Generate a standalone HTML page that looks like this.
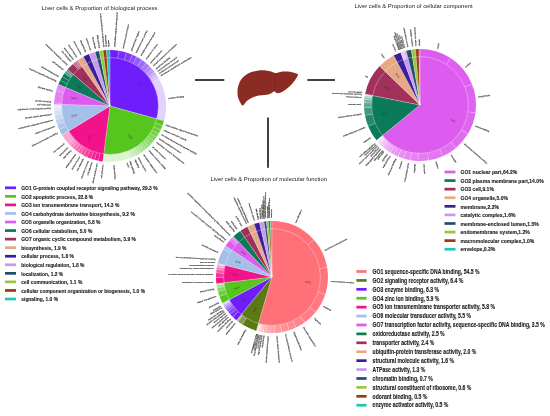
<!DOCTYPE html>
<html><head><meta charset="utf-8"><title>Liver cells GO proportions</title>
<style>
html,body{margin:0;padding:0;background:#fff;}
svg{display:block;font-family:"Liberation Sans",Arial,sans-serif;}
.tt text{font-size:5.9px;fill:#222;}
.lg text{font-weight:bold;fill:#1a1a1a;stroke:#1a1a1a;stroke-width:.12px;}
.rl text{font-size:2.0px;fill:#333;font-weight:bold;stroke:#444;stroke-width:.1px;}
.il{font-size:2.6px;fill:#333;}
</style></head><body>
<svg width="550" height="416" viewBox="0 0 550 416">
<rect width="550" height="416" fill="#fff"/>
<g class="tt">
<text x="99.6" y="9.6" text-anchor="middle">Liver cells &amp; Proportion of biological process</text>
<text x="413.5" y="7.5" text-anchor="middle">Liver cells &amp; Proportion of cellular component</text>
<text x="268.7" y="181.2" text-anchor="middle">Liver cells &amp; Proportion of molecular function</text>
</g>
<g><path d="M110.00,106.00L110.00,57.00A49.0,49.0 0 0 1 157.25,118.99Z" fill="#6f1dfb"/><text class="il" x="139.43" y="83.57" transform="rotate(-37.3 139.43 83.57)" text-anchor="middle" dy=".9">GO1</text><path d="M110.00,106.00L157.25,118.99A49.0,49.0 0 0 1 103.71,154.59Z" fill="#55c61e"/><text class="il" x="130.49" y="136.81" transform="rotate(56.4 130.49 136.81)" text-anchor="middle" dy=".9">GO2</text><path d="M110.00,106.00L103.71,154.59A49.0,49.0 0 0 1 68.09,131.38Z" fill="#f2128a"/><text class="il" x="89.80" y="137.00" transform="rotate(-56.9 89.80 137.00)" text-anchor="middle" dy=".9">GO3</text><path d="M110.00,106.00L68.09,131.38A49.0,49.0 0 0 1 61.03,104.39Z" fill="#a4bfe9"/><text class="il" x="74.20" y="115.36" transform="rotate(-14.7 74.20 115.36)" text-anchor="middle" dy=".9">GO4</text><path d="M110.00,106.00L61.03,104.39A49.0,49.0 0 0 1 64.81,87.05Z" fill="#dd5cef"/><text class="il" x="73.85" y="98.11" transform="rotate(12.3 73.85 98.11)" text-anchor="middle" dy=".9">GO5</text><path d="M110.00,106.00L64.81,87.05A49.0,49.0 0 0 1 72.87,74.03Z" fill="#0b7a59"/><text class="il" x="78.53" y="86.54" transform="rotate(31.7 78.53 86.54)" text-anchor="middle" dy=".9">GO6</text><path d="M110.00,106.00L72.87,74.03A49.0,49.0 0 0 1 81.72,65.98Z" fill="#a1305b"/><text class="il" x="85.12" y="78.62" transform="rotate(47.7 85.12 78.62)" text-anchor="middle" dy=".9">GO7</text><path d="M110.00,106.00L81.72,65.98A49.0,49.0 0 0 1 86.69,62.90Z" fill="#e7a983"/><path d="M110.00,106.00L86.69,62.90A49.0,49.0 0 0 1 91.69,60.55Z" fill="#3a1f9c"/><path d="M110.00,106.00L91.69,60.55A49.0,49.0 0 0 1 96.93,58.77Z" fill="#cb98ef"/><path d="M110.00,106.00L96.93,58.77A49.0,49.0 0 0 1 100.53,57.92Z" fill="#1f4e6e"/><path d="M110.00,106.00L100.53,57.92A49.0,49.0 0 0 1 103.86,57.39Z" fill="#9bc63d"/><path d="M110.00,106.00L103.86,57.39A49.0,49.0 0 0 1 106.93,57.10Z" fill="#9a3a0f"/><path d="M110.00,106.00L106.93,57.10A49.0,49.0 0 0 1 110.00,57.00Z" fill="#1fc7ae"/></g>
<g><path d="M110.00,50.00A56.0,56.0 0 0 1 118.76,50.69L117.57,58.20A48.4,48.4 0 0 0 110.00,57.60Z" fill="#6f1dfb"/><path d="M118.76,50.69A56.0,56.0 0 0 1 126.37,52.45L124.15,59.71A48.4,48.4 0 0 0 117.57,58.20Z" fill="#792cfb"/><path d="M126.37,52.45A56.0,56.0 0 0 1 132.33,54.64L129.30,61.61A48.4,48.4 0 0 0 124.15,59.71Z" fill="#823bfc"/><path d="M132.33,54.64A56.0,56.0 0 0 1 136.72,56.79L133.09,63.47A48.4,48.4 0 0 0 129.30,61.61Z" fill="#8c4afc"/><path d="M136.72,56.79A56.0,56.0 0 0 1 141.72,59.85L137.41,66.11A48.4,48.4 0 0 0 133.09,63.47Z" fill="#9559fc"/><path d="M141.72,59.85A56.0,56.0 0 0 1 146.00,63.10L141.11,68.92A48.4,48.4 0 0 0 137.41,66.11Z" fill="#9f68fc"/><path d="M146.00,63.10A56.0,56.0 0 0 1 149.60,66.40L144.22,71.78A48.4,48.4 0 0 0 141.11,68.92Z" fill="#a977fd"/><path d="M149.60,66.40A56.0,56.0 0 0 1 152.26,69.26L146.53,74.25A48.4,48.4 0 0 0 144.22,71.78Z" fill="#b286fd"/><path d="M152.26,69.26A56.0,56.0 0 0 1 154.43,71.91L148.40,76.54A48.4,48.4 0 0 0 146.53,74.25Z" fill="#bc96fd"/><path d="M154.43,71.91A56.0,56.0 0 0 1 155.87,73.88L149.65,78.24A48.4,48.4 0 0 0 148.40,76.54Z" fill="#c5a5fd"/><path d="M155.87,73.88A56.0,56.0 0 0 1 157.33,76.08L150.91,80.14A48.4,48.4 0 0 0 149.65,78.24Z" fill="#cfb4fe"/><path d="M157.33,76.08A56.0,56.0 0 0 1 158.74,78.42L152.13,82.17A48.4,48.4 0 0 0 150.91,80.14Z" fill="#d9c3fe"/><path d="M158.74,78.42A56.0,56.0 0 0 1 163.99,120.87L156.66,118.85A48.4,48.4 0 0 0 152.13,82.17Z" fill="#e2d2fe"/><path d="M164.00,120.85A56.0,56.0 0 0 1 162.47,125.58L155.35,122.92A48.4,48.4 0 0 0 156.67,118.83Z" fill="#55c61e"/><path d="M162.47,125.58A56.0,56.0 0 0 1 160.63,129.93L153.76,126.68A48.4,48.4 0 0 0 155.35,122.92Z" fill="#63cb30"/><path d="M160.63,129.93A56.0,56.0 0 0 1 158.55,133.91L151.96,130.12A48.4,48.4 0 0 0 153.76,126.68Z" fill="#6ece3e"/><path d="M158.55,133.91A56.0,56.0 0 0 1 156.29,137.52L150.01,133.24A48.4,48.4 0 0 0 151.96,130.12Z" fill="#78d24c"/><path d="M156.29,137.52A56.0,56.0 0 0 1 153.89,140.78L147.93,136.06A48.4,48.4 0 0 0 150.01,133.24Z" fill="#81d559"/><path d="M153.89,140.78A56.0,56.0 0 0 1 151.40,143.72L145.78,138.60A48.4,48.4 0 0 0 147.93,136.06Z" fill="#8ad865"/><path d="M151.40,143.72A56.0,56.0 0 0 1 148.85,146.34L143.57,140.86A48.4,48.4 0 0 0 145.78,138.60Z" fill="#93db71"/><path d="M148.85,146.34A56.0,56.0 0 0 1 146.27,148.67L141.35,142.88A48.4,48.4 0 0 0 143.57,140.86Z" fill="#9cde7c"/><path d="M146.27,148.67A56.0,56.0 0 0 1 143.70,150.73L139.12,144.66A48.4,48.4 0 0 0 141.35,142.88Z" fill="#a5e187"/><path d="M143.70,150.73A56.0,56.0 0 0 1 141.14,152.54L136.91,146.23A48.4,48.4 0 0 0 139.12,144.66Z" fill="#ade493"/><path d="M141.14,152.54A56.0,56.0 0 0 1 138.62,154.13L134.74,147.60A48.4,48.4 0 0 0 136.91,146.23Z" fill="#b5e69e"/><path d="M138.62,154.13A56.0,56.0 0 0 1 136.16,155.52L132.61,148.80A48.4,48.4 0 0 0 134.74,147.60Z" fill="#bde9a8"/><path d="M136.16,155.52A56.0,56.0 0 0 1 133.75,156.71L130.53,149.83A48.4,48.4 0 0 0 132.61,148.80Z" fill="#c6ecb3"/><path d="M133.75,156.71A56.0,56.0 0 0 1 131.41,157.74L128.51,150.72A48.4,48.4 0 0 0 130.53,149.83Z" fill="#cdeebd"/><path d="M131.41,157.74A56.0,56.0 0 0 1 129.15,158.62L126.55,151.48A48.4,48.4 0 0 0 128.51,150.72Z" fill="#d5f1c8"/><path d="M129.15,158.62A56.0,56.0 0 0 1 102.81,161.54L103.79,154.00A48.4,48.4 0 0 0 126.55,151.48Z" fill="#ddf4d2"/><path d="M102.79,161.53A56.0,56.0 0 0 1 98.36,160.78L99.94,153.34A48.4,48.4 0 0 0 103.77,154.00Z" fill="#f2128a"/><path d="M98.36,160.78A56.0,56.0 0 0 1 94.56,159.83L96.66,152.53A48.4,48.4 0 0 0 99.94,153.34Z" fill="#f21a8e"/><path d="M94.56,159.83A56.0,56.0 0 0 1 90.85,158.62L93.45,151.48A48.4,48.4 0 0 0 96.66,152.53Z" fill="#f32593"/><path d="M90.85,158.62A56.0,56.0 0 0 1 87.22,157.16L90.31,150.22A48.4,48.4 0 0 0 93.45,151.48Z" fill="#f43199"/><path d="M87.22,157.16A56.0,56.0 0 0 1 83.71,155.45L87.28,148.73A48.4,48.4 0 0 0 90.31,150.22Z" fill="#f43ea0"/><path d="M83.71,155.45A56.0,56.0 0 0 1 80.74,153.75L84.71,147.27A48.4,48.4 0 0 0 87.28,148.73Z" fill="#f54ba6"/><path d="M80.74,153.75A56.0,56.0 0 0 1 77.88,151.87L82.24,145.65A48.4,48.4 0 0 0 84.71,147.27Z" fill="#f659ad"/><path d="M77.88,151.87A56.0,56.0 0 0 1 75.14,149.83L79.87,143.88A48.4,48.4 0 0 0 82.24,145.65Z" fill="#f767b4"/><path d="M75.14,149.83A56.0,56.0 0 0 1 72.53,147.62L77.61,141.97A48.4,48.4 0 0 0 79.87,143.88Z" fill="#f876bc"/><path d="M72.53,147.62A56.0,56.0 0 0 1 70.40,145.60L75.78,140.22A48.4,48.4 0 0 0 77.61,141.97Z" fill="#f885c3"/><path d="M70.40,145.60A56.0,56.0 0 0 1 68.38,143.47L74.03,138.39A48.4,48.4 0 0 0 75.78,140.22Z" fill="#f995cb"/><path d="M68.38,143.47A56.0,56.0 0 0 1 62.10,135.01L68.60,131.07A48.4,48.4 0 0 0 74.03,138.39Z" fill="#faa5d3"/><path d="M62.10,135.01A56.0,56.0 0 0 1 59.19,129.54L66.08,126.34A48.4,48.4 0 0 0 68.60,131.07Z" fill="#a4bfe9"/><path d="M59.19,129.54A56.0,56.0 0 0 1 57.10,124.37L64.28,121.88A48.4,48.4 0 0 0 66.08,126.34Z" fill="#afc7ec"/><path d="M57.10,124.37A56.0,56.0 0 0 1 55.67,119.56L63.04,117.72A48.4,48.4 0 0 0 64.28,121.88Z" fill="#bbcfee"/><path d="M55.67,119.56A56.0,56.0 0 0 1 54.75,115.14L62.25,113.90A48.4,48.4 0 0 0 63.04,117.72Z" fill="#c6d7f1"/><path d="M54.75,115.14A56.0,56.0 0 0 1 54.23,111.10L61.80,110.41A48.4,48.4 0 0 0 62.25,113.90Z" fill="#d2dff4"/><path d="M54.23,111.10A56.0,56.0 0 0 1 54.02,107.45L61.62,107.25A48.4,48.4 0 0 0 61.80,110.41Z" fill="#dde7f7"/><path d="M54.02,107.45A56.0,56.0 0 0 1 54.03,104.15L61.63,104.41A48.4,48.4 0 0 0 61.62,107.25Z" fill="#e8effa"/><path d="M54.03,104.15A56.0,56.0 0 0 1 54.08,102.98L61.67,103.39A48.4,48.4 0 0 0 61.63,104.41Z" fill="#dd5cef"/><path d="M54.08,102.98A56.0,56.0 0 0 1 56.14,90.67L63.45,92.75A48.4,48.4 0 0 0 61.67,103.39Z" fill="#e480f3"/><path d="M56.14,90.67A56.0,56.0 0 0 1 58.36,84.35L65.36,87.29A48.4,48.4 0 0 0 63.45,92.75Z" fill="#e685f3"/><path d="M58.36,84.35A56.0,56.0 0 0 1 60.21,80.36L66.97,83.84A48.4,48.4 0 0 0 65.36,87.29Z" fill="#0b7a59"/><path d="M60.21,80.36A56.0,56.0 0 0 1 62.38,76.53L68.84,80.53A48.4,48.4 0 0 0 66.97,83.84Z" fill="#0b7a59"/><path d="M62.38,76.53A56.0,56.0 0 0 1 64.55,73.28L70.72,77.72A48.4,48.4 0 0 0 68.84,80.53Z" fill="#0b7a59"/><path d="M64.55,73.28A56.0,56.0 0 0 1 66.02,71.33L71.99,76.04A48.4,48.4 0 0 0 70.72,77.72Z" fill="#489b82"/><path d="M66.02,71.33A56.0,56.0 0 0 1 67.56,69.46L73.32,74.42A48.4,48.4 0 0 0 71.99,76.04Z" fill="#54a28b"/><path d="M67.56,69.46A56.0,56.0 0 0 1 73.06,63.91L78.07,69.62A48.4,48.4 0 0 0 73.32,74.42Z" fill="#a1305b"/><path d="M73.06,63.91A56.0,56.0 0 0 1 74.55,62.65L79.36,68.53A48.4,48.4 0 0 0 78.07,69.62Z" fill="#b86484"/><path d="M74.55,62.65A56.0,56.0 0 0 1 76.09,61.44L80.69,67.48A48.4,48.4 0 0 0 79.36,68.53Z" fill="#bd6e8c"/><path d="M76.09,61.44A56.0,56.0 0 0 1 77.68,60.27L82.07,66.47A48.4,48.4 0 0 0 80.69,67.48Z" fill="#c27894"/><path d="M77.68,60.27A56.0,56.0 0 0 1 83.36,56.75L86.97,63.43A48.4,48.4 0 0 0 82.07,66.47Z" fill="#e7a983"/><path d="M83.36,56.75A56.0,56.0 0 0 1 89.08,54.06L91.92,61.10A48.4,48.4 0 0 0 86.97,63.43Z" fill="#3a1f9c"/><path d="M89.08,54.06A56.0,56.0 0 0 1 95.07,52.03L97.09,59.35A48.4,48.4 0 0 0 91.92,61.10Z" fill="#cb98ef"/><path d="M95.07,52.03A56.0,56.0 0 0 1 99.17,51.06L100.64,58.51A48.4,48.4 0 0 0 97.09,59.35Z" fill="#1f4e6e"/><path d="M99.17,51.06A56.0,56.0 0 0 1 102.99,50.44L103.94,57.98A48.4,48.4 0 0 0 100.64,58.51Z" fill="#9bc63d"/><path d="M102.99,50.44A56.0,56.0 0 0 1 106.49,50.11L106.96,57.70A48.4,48.4 0 0 0 103.94,57.98Z" fill="#9a3a0f"/><path d="M106.49,50.11A56.0,56.0 0 0 1 110.00,50.00L110.00,57.60A48.4,48.4 0 0 0 106.96,57.70Z" fill="#1fc7ae"/></g>
<circle cx="110" cy="106.0" r="48.4" fill="none" stroke="#fff" stroke-opacity=".7" stroke-width=".45"/>
<g><line x1="117.57" y1="58.20" x2="118.76" y2="50.69" stroke="#fff" stroke-opacity=".55" stroke-width=".35"/><line x1="124.15" y1="59.71" x2="126.37" y2="52.45" stroke="#fff" stroke-opacity=".55" stroke-width=".35"/><line x1="129.30" y1="61.61" x2="132.33" y2="54.64" stroke="#fff" stroke-opacity=".55" stroke-width=".35"/><line x1="133.09" y1="63.47" x2="136.72" y2="56.79" stroke="#fff" stroke-opacity=".55" stroke-width=".35"/><line x1="137.41" y1="66.11" x2="141.72" y2="59.85" stroke="#fff" stroke-opacity=".55" stroke-width=".35"/><line x1="141.11" y1="68.92" x2="146.00" y2="63.10" stroke="#fff" stroke-opacity=".55" stroke-width=".35"/><line x1="144.22" y1="71.78" x2="149.60" y2="66.40" stroke="#fff" stroke-opacity=".55" stroke-width=".35"/><line x1="146.53" y1="74.25" x2="152.26" y2="69.26" stroke="#fff" stroke-opacity=".55" stroke-width=".35"/><line x1="148.40" y1="76.54" x2="154.43" y2="71.91" stroke="#fff" stroke-opacity=".55" stroke-width=".35"/><line x1="149.65" y1="78.24" x2="155.87" y2="73.88" stroke="#fff" stroke-opacity=".55" stroke-width=".35"/><line x1="150.91" y1="80.14" x2="157.33" y2="76.08" stroke="#fff" stroke-opacity=".55" stroke-width=".35"/><line x1="152.13" y1="82.17" x2="158.74" y2="78.42" stroke="#fff" stroke-opacity=".55" stroke-width=".35"/><line x1="110" y1="106.0" x2="110.00" y2="50.00" stroke="#fff" stroke-opacity=".8" stroke-width=".4"/><line x1="155.35" y1="122.92" x2="162.47" y2="125.58" stroke="#fff" stroke-opacity=".55" stroke-width=".35"/><line x1="153.76" y1="126.68" x2="160.63" y2="129.93" stroke="#fff" stroke-opacity=".55" stroke-width=".35"/><line x1="151.96" y1="130.12" x2="158.55" y2="133.91" stroke="#fff" stroke-opacity=".55" stroke-width=".35"/><line x1="150.01" y1="133.24" x2="156.29" y2="137.52" stroke="#fff" stroke-opacity=".55" stroke-width=".35"/><line x1="147.93" y1="136.06" x2="153.89" y2="140.78" stroke="#fff" stroke-opacity=".55" stroke-width=".35"/><line x1="145.78" y1="138.60" x2="151.40" y2="143.72" stroke="#fff" stroke-opacity=".55" stroke-width=".35"/><line x1="143.57" y1="140.86" x2="148.85" y2="146.34" stroke="#fff" stroke-opacity=".55" stroke-width=".35"/><line x1="141.35" y1="142.88" x2="146.27" y2="148.67" stroke="#fff" stroke-opacity=".55" stroke-width=".35"/><line x1="139.12" y1="144.66" x2="143.70" y2="150.73" stroke="#fff" stroke-opacity=".55" stroke-width=".35"/><line x1="136.91" y1="146.23" x2="141.14" y2="152.54" stroke="#fff" stroke-opacity=".55" stroke-width=".35"/><line x1="134.74" y1="147.60" x2="138.62" y2="154.13" stroke="#fff" stroke-opacity=".55" stroke-width=".35"/><line x1="132.61" y1="148.80" x2="136.16" y2="155.52" stroke="#fff" stroke-opacity=".55" stroke-width=".35"/><line x1="130.53" y1="149.83" x2="133.75" y2="156.71" stroke="#fff" stroke-opacity=".55" stroke-width=".35"/><line x1="128.51" y1="150.72" x2="131.41" y2="157.74" stroke="#fff" stroke-opacity=".55" stroke-width=".35"/><line x1="126.55" y1="151.48" x2="129.15" y2="158.62" stroke="#fff" stroke-opacity=".55" stroke-width=".35"/><line x1="110" y1="106.0" x2="164.00" y2="120.85" stroke="#fff" stroke-opacity=".8" stroke-width=".4"/><line x1="99.94" y1="153.34" x2="98.36" y2="160.78" stroke="#fff" stroke-opacity=".55" stroke-width=".35"/><line x1="96.66" y1="152.53" x2="94.56" y2="159.83" stroke="#fff" stroke-opacity=".55" stroke-width=".35"/><line x1="93.45" y1="151.48" x2="90.85" y2="158.62" stroke="#fff" stroke-opacity=".55" stroke-width=".35"/><line x1="90.31" y1="150.22" x2="87.22" y2="157.16" stroke="#fff" stroke-opacity=".55" stroke-width=".35"/><line x1="87.28" y1="148.73" x2="83.71" y2="155.45" stroke="#fff" stroke-opacity=".55" stroke-width=".35"/><line x1="84.71" y1="147.27" x2="80.74" y2="153.75" stroke="#fff" stroke-opacity=".55" stroke-width=".35"/><line x1="82.24" y1="145.65" x2="77.88" y2="151.87" stroke="#fff" stroke-opacity=".55" stroke-width=".35"/><line x1="79.87" y1="143.88" x2="75.14" y2="149.83" stroke="#fff" stroke-opacity=".55" stroke-width=".35"/><line x1="77.61" y1="141.97" x2="72.53" y2="147.62" stroke="#fff" stroke-opacity=".55" stroke-width=".35"/><line x1="75.78" y1="140.22" x2="70.40" y2="145.60" stroke="#fff" stroke-opacity=".55" stroke-width=".35"/><line x1="74.03" y1="138.39" x2="68.38" y2="143.47" stroke="#fff" stroke-opacity=".55" stroke-width=".35"/><line x1="110" y1="106.0" x2="102.81" y2="161.54" stroke="#fff" stroke-opacity=".8" stroke-width=".4"/><line x1="66.08" y1="126.34" x2="59.19" y2="129.54" stroke="#fff" stroke-opacity=".55" stroke-width=".35"/><line x1="64.28" y1="121.88" x2="57.10" y2="124.37" stroke="#fff" stroke-opacity=".55" stroke-width=".35"/><line x1="63.04" y1="117.72" x2="55.67" y2="119.56" stroke="#fff" stroke-opacity=".55" stroke-width=".35"/><line x1="62.25" y1="113.90" x2="54.75" y2="115.14" stroke="#fff" stroke-opacity=".55" stroke-width=".35"/><line x1="61.80" y1="110.41" x2="54.23" y2="111.10" stroke="#fff" stroke-opacity=".55" stroke-width=".35"/><line x1="61.62" y1="107.25" x2="54.02" y2="107.45" stroke="#fff" stroke-opacity=".55" stroke-width=".35"/><line x1="110" y1="106.0" x2="62.10" y2="135.01" stroke="#fff" stroke-opacity=".8" stroke-width=".4"/><line x1="61.67" y1="103.39" x2="54.08" y2="102.98" stroke="#fff" stroke-opacity=".55" stroke-width=".35"/><line x1="63.45" y1="92.75" x2="56.14" y2="90.67" stroke="#fff" stroke-opacity=".55" stroke-width=".35"/><line x1="110" y1="106.0" x2="54.03" y2="104.15" stroke="#fff" stroke-opacity=".8" stroke-width=".4"/><line x1="66.97" y1="83.84" x2="60.21" y2="80.36" stroke="#fff" stroke-opacity=".55" stroke-width=".35"/><line x1="68.84" y1="80.53" x2="62.38" y2="76.53" stroke="#fff" stroke-opacity=".55" stroke-width=".35"/><line x1="70.72" y1="77.72" x2="64.55" y2="73.28" stroke="#fff" stroke-opacity=".55" stroke-width=".35"/><line x1="71.99" y1="76.04" x2="66.02" y2="71.33" stroke="#fff" stroke-opacity=".55" stroke-width=".35"/><line x1="110" y1="106.0" x2="58.36" y2="84.35" stroke="#fff" stroke-opacity=".8" stroke-width=".4"/><line x1="78.07" y1="69.62" x2="73.06" y2="63.91" stroke="#fff" stroke-opacity=".55" stroke-width=".35"/><line x1="79.36" y1="68.53" x2="74.55" y2="62.65" stroke="#fff" stroke-opacity=".55" stroke-width=".35"/><line x1="80.69" y1="67.48" x2="76.09" y2="61.44" stroke="#fff" stroke-opacity=".55" stroke-width=".35"/><line x1="110" y1="106.0" x2="67.56" y2="69.46" stroke="#fff" stroke-opacity=".8" stroke-width=".4"/><line x1="110" y1="106.0" x2="77.68" y2="60.27" stroke="#fff" stroke-opacity=".8" stroke-width=".4"/><line x1="110" y1="106.0" x2="83.36" y2="56.75" stroke="#fff" stroke-opacity=".8" stroke-width=".4"/><line x1="110" y1="106.0" x2="89.08" y2="54.06" stroke="#fff" stroke-opacity=".8" stroke-width=".4"/><line x1="110" y1="106.0" x2="95.07" y2="52.03" stroke="#fff" stroke-opacity=".8" stroke-width=".4"/><line x1="110" y1="106.0" x2="99.17" y2="51.06" stroke="#fff" stroke-opacity=".8" stroke-width=".4"/><line x1="110" y1="106.0" x2="102.99" y2="50.44" stroke="#fff" stroke-opacity=".8" stroke-width=".4"/><line x1="110" y1="106.0" x2="106.49" y2="50.11" stroke="#fff" stroke-opacity=".8" stroke-width=".4"/></g>
<g class="rl"><text x="114.42" y="47.17" transform="rotate(-85.7 114.42 47.17)" text-anchor="start" textLength="35.0" lengthAdjust="spacingAndGlyphs" dy=".8">multicellular organism development</text><text x="122.97" y="48.44" transform="rotate(-77.3 122.97 48.44)" text-anchor="start" textLength="24.5" lengthAdjust="spacingAndGlyphs" dy=".8">membrane-enclosed lumen</text><text x="131.14" y="50.92" transform="rotate(-69.0 131.14 50.92)" text-anchor="start" textLength="21.0" lengthAdjust="spacingAndGlyphs" dy=".8">extracellular region</text><text x="135.86" y="52.97" transform="rotate(-64.0 135.86 52.97)" text-anchor="start" textLength="25.0" lengthAdjust="spacingAndGlyphs" dy=".8">oxidoreductase activity</text><text x="140.74" y="55.64" transform="rotate(-58.6 140.74 55.64)" text-anchor="start" textLength="27.0" lengthAdjust="spacingAndGlyphs" dy=".8">vesicle-mediated transport</text><text x="145.84" y="59.13" transform="rotate(-52.6 145.84 59.13)" text-anchor="start" textLength="19.0" lengthAdjust="spacingAndGlyphs" dy=".8">response to stress</text><text x="150.24" y="62.85" transform="rotate(-47.0 150.24 62.85)" text-anchor="start" textLength="17.0" lengthAdjust="spacingAndGlyphs" dy=".8">protein transport</text><text x="153.15" y="65.76" transform="rotate(-43.0 153.15 65.76)" text-anchor="start" textLength="32.0" lengthAdjust="spacingAndGlyphs" dy=".8">integral component of membrane</text><text x="155.85" y="68.87" transform="rotate(-39.0 155.85 68.87)" text-anchor="start" textLength="18.0" lengthAdjust="spacingAndGlyphs" dy=".8">metal ion binding</text><text x="157.61" y="71.15" transform="rotate(-36.2 157.61 71.15)" text-anchor="start" textLength="24.0" lengthAdjust="spacingAndGlyphs" dy=".8">transmembrane transport</text><text x="159.14" y="73.35" transform="rotate(-33.6 159.14 73.35)" text-anchor="start" textLength="23.7" lengthAdjust="spacingAndGlyphs" dy=".8">membrane-enclosed lumen</text><text x="160.57" y="75.61" transform="rotate(-31.0 160.57 75.61)" text-anchor="start" textLength="36.0" lengthAdjust="spacingAndGlyphs" dy=".8">structural constituent of ribosome</text><text x="168.50" y="98.30" transform="rotate(-7.5 168.50 98.30)" text-anchor="start" textLength="15.7" lengthAdjust="spacingAndGlyphs" dy=".8">protein binding</text><text x="165.89" y="124.92" transform="rotate(18.7 165.89 124.92)" text-anchor="start" textLength="34.0" lengthAdjust="spacingAndGlyphs" dy=".8">intracellular signal transduction</text><text x="163.90" y="130.00" transform="rotate(24.0 163.90 130.00)" text-anchor="start" textLength="25.0" lengthAdjust="spacingAndGlyphs" dy=".8">enzyme activator activity</text><text x="161.60" y="134.60" transform="rotate(29.0 161.60 134.60)" text-anchor="start" textLength="40.0" lengthAdjust="spacingAndGlyphs" dy=".8">ion transmembrane transporter activity</text><text x="159.26" y="138.48" transform="rotate(33.4 159.26 138.48)" text-anchor="start" textLength="26.0" lengthAdjust="spacingAndGlyphs" dy=".8">vesicle-mediated transport</text><text x="156.68" y="142.08" transform="rotate(37.7 156.68 142.08)" text-anchor="start" textLength="35.0" lengthAdjust="spacingAndGlyphs" dy=".8">anatomical structure morphogenesis</text><text x="152.80" y="146.61" transform="rotate(43.5 152.80 146.61)" text-anchor="start" textLength="18.0" lengthAdjust="spacingAndGlyphs" dy=".8">protein transport</text><text x="149.09" y="150.19" transform="rotate(48.5 149.09 150.19)" text-anchor="start" textLength="25.0" lengthAdjust="spacingAndGlyphs" dy=".8">enzyme activator activity</text><text x="143.84" y="154.33" transform="rotate(55.0 143.84 154.33)" text-anchor="start" textLength="23.0" lengthAdjust="spacingAndGlyphs" dy=".8">chromatin organization</text><text x="138.60" y="157.60" transform="rotate(61.0 138.60 157.60)" text-anchor="start" textLength="15.6" lengthAdjust="spacingAndGlyphs" dy=".8">immune response</text><text x="135.12" y="159.38" transform="rotate(64.8 135.12 159.38)" text-anchor="start" textLength="9.0" lengthAdjust="spacingAndGlyphs" dy=".8">signaling</text><text x="130.18" y="161.44" transform="rotate(70.0 130.18 161.44)" text-anchor="start" textLength="13.0" lengthAdjust="spacingAndGlyphs" dy=".8">RNA splicing</text><text x="127.25" y="162.42" transform="rotate(73.0 127.25 162.42)" text-anchor="start" textLength="5.0" lengthAdjust="spacingAndGlyphs" dy=".8">cell</text><text x="114.32" y="164.84" transform="rotate(85.8 114.32 164.84)" text-anchor="start" textLength="14.5" lengthAdjust="spacingAndGlyphs" dy=".8">enzyme binding</text><text x="102.81" y="164.56" transform="rotate(-83.0 102.81 164.56)" text-anchor="end" textLength="14.0" lengthAdjust="spacingAndGlyphs" dy=".8">cell adhesion</text><text x="97.03" y="163.56" transform="rotate(-77.3 97.03 163.56)" text-anchor="end" textLength="20.0" lengthAdjust="spacingAndGlyphs" dy=".8">plasma membrane part</text><text x="91.77" y="162.11" transform="rotate(-72.0 91.77 162.11)" text-anchor="end" textLength="14.0" lengthAdjust="spacingAndGlyphs" dy=".8">cell adhesion</text><text x="88.18" y="160.82" transform="rotate(-68.3 88.18 160.82)" text-anchor="end" textLength="19.0" lengthAdjust="spacingAndGlyphs" dy=".8">response to stress</text><text x="83.21" y="158.57" transform="rotate(-63.0 83.21 158.57)" text-anchor="end" textLength="14.0" lengthAdjust="spacingAndGlyphs" dy=".8">cell adhesion</text><text x="79.61" y="156.57" transform="rotate(-59.0 79.61 156.57)" text-anchor="end" textLength="15.0" lengthAdjust="spacingAndGlyphs" dy=".8">immune response</text><text x="75.65" y="153.97" transform="rotate(-54.4 75.65 153.97)" text-anchor="end" textLength="17.0" lengthAdjust="spacingAndGlyphs" dy=".8">cellular process</text><text x="70.83" y="150.12" transform="rotate(-48.4 70.83 150.12)" text-anchor="end" textLength="11.0" lengthAdjust="spacingAndGlyphs" dy=".8">DNA binding</text><text x="67.92" y="147.35" transform="rotate(-44.5 67.92 147.35)" text-anchor="end" textLength="12.0" lengthAdjust="spacingAndGlyphs" dy=".8">biosynthesis</text><text x="64.34" y="143.37" transform="rotate(-39.3 64.34 143.37)" text-anchor="end" textLength="14.0" lengthAdjust="spacingAndGlyphs" dy=".8">ion transport</text><text x="57.48" y="132.88" transform="rotate(-27.1 57.48 132.88)" text-anchor="end" textLength="29.0" lengthAdjust="spacingAndGlyphs" dy=".8">olfactory receptor activity</text><text x="54.59" y="126.28" transform="rotate(-20.1 54.59 126.28)" text-anchor="end" textLength="20.5" lengthAdjust="spacingAndGlyphs" dy=".8">plasma membrane part</text><text x="52.70" y="120.07" transform="rotate(-13.8 52.70 120.07)" text-anchor="end" textLength="35.5" lengthAdjust="spacingAndGlyphs" dy=".8">multicellular organism development</text><text x="51.57" y="114.21" transform="rotate(-8.0 51.57 114.21)" text-anchor="end" textLength="27.0" lengthAdjust="spacingAndGlyphs" dy=".8">nervous system development</text><text x="51.04" y="108.16" transform="rotate(-2.1 51.04 108.16)" text-anchor="end" textLength="33.5" lengthAdjust="spacingAndGlyphs" dy=".8">regulation of biological quality</text><text x="51.01" y="104.76" transform="rotate(1.2 51.01 104.76)" text-anchor="end" textLength="14.0" lengthAdjust="spacingAndGlyphs" dy=".8">cell adhesion</text><text x="51.16" y="101.68" transform="rotate(4.2 51.16 101.68)" text-anchor="end" textLength="16.0" lengthAdjust="spacingAndGlyphs" dy=".8">protein binding</text><text x="52.96" y="90.93" transform="rotate(14.8 52.96 90.93)" text-anchor="end" textLength="15.5" lengthAdjust="spacingAndGlyphs" dy=".8">ATPase activity</text><text x="56.53" y="81.07" transform="rotate(25.0 56.53 81.07)" text-anchor="end" textLength="30.0" lengthAdjust="spacingAndGlyphs" dy=".8">sequence-specific DNA binding</text><text x="58.90" y="76.50" transform="rotate(30.0 58.90 76.50)" text-anchor="end" textLength="20.0" lengthAdjust="spacingAndGlyphs" dy=".8">plasma membrane part</text><text x="63.51" y="69.68" transform="rotate(38.0 63.51 69.68)" text-anchor="end" textLength="14.0" lengthAdjust="spacingAndGlyphs" dy=".8">cell adhesion</text><text x="67.56" y="65.02" transform="rotate(44.0 67.56 65.02)" text-anchor="end" textLength="30.0" lengthAdjust="spacingAndGlyphs" dy=".8">molecular transducer activity</text><text x="71.29" y="61.47" transform="rotate(49.0 71.29 61.47)" text-anchor="end" textLength="14.0" lengthAdjust="spacingAndGlyphs" dy=".8">ion transport</text><text x="73.68" y="59.51" transform="rotate(52.0 73.68 59.51)" text-anchor="end" textLength="15.0" lengthAdjust="spacingAndGlyphs" dy=".8">immune response</text><text x="77.01" y="57.09" transform="rotate(56.0 77.01 57.09)" text-anchor="end" textLength="15.0" lengthAdjust="spacingAndGlyphs" dy=".8">immune response</text><text x="81.40" y="54.40" transform="rotate(61.0 81.40 54.40)" text-anchor="end" textLength="15.0" lengthAdjust="spacingAndGlyphs" dy=".8">immune response</text><text x="86.00" y="52.10" transform="rotate(66.0 86.00 52.10)" text-anchor="end" textLength="13.0" lengthAdjust="spacingAndGlyphs" dy=".8">biosynthesis</text><text x="90.79" y="50.21" transform="rotate(71.0 90.79 50.21)" text-anchor="end" textLength="13.0" lengthAdjust="spacingAndGlyphs" dy=".8">nuclear part</text><text x="95.73" y="48.75" transform="rotate(76.0 95.73 48.75)" text-anchor="end" textLength="12.0" lengthAdjust="spacingAndGlyphs" dy=".8">biosynthesis</text><text x="99.75" y="47.90" transform="rotate(80.0 99.75 47.90)" text-anchor="end" textLength="13.0" lengthAdjust="spacingAndGlyphs" dy=".8">RNA splicing</text><text x="104.14" y="47.29" transform="rotate(84.3 104.14 47.29)" text-anchor="end" textLength="34.0" lengthAdjust="spacingAndGlyphs" dy=".8">anatomical structure morphogenesis</text><text x="106.50" y="47.10" transform="rotate(86.6 106.50 47.10)" text-anchor="end" textLength="12.0" lengthAdjust="spacingAndGlyphs" dy=".8">biosynthesis</text><text x="108.97" y="47.01" transform="rotate(89.0 108.97 47.01)" text-anchor="end" textLength="7.0" lengthAdjust="spacingAndGlyphs" dy=".8">envelope</text></g>
<g><path d="M420.00,105.00L420.00,56.00A49.0,49.0 0 1 1 381.98,135.91Z" fill="#dd5cef"/><text class="il" x="452.96" y="120.68" transform="rotate(25.4 452.96 120.68)" text-anchor="middle" dy=".9">GO1</text><path d="M420.00,105.00L381.98,135.91A49.0,49.0 0 0 1 371.94,95.45Z" fill="#0b7a59"/><text class="il" x="384.09" y="113.91" transform="rotate(-13.9 384.09 113.91)" text-anchor="middle" dy=".9">GO2</text><path d="M420.00,105.00L371.94,95.45A49.0,49.0 0 0 1 384.73,70.98Z" fill="#a1305b"/><text class="il" x="387.21" y="87.86" transform="rotate(27.6 387.21 87.86)" text-anchor="middle" dy=".9">GO3</text><path d="M420.00,105.00L384.73,70.98A49.0,49.0 0 0 1 396.96,61.76Z" fill="#e7a983"/><text class="il" x="397.71" y="75.47" transform="rotate(53.0 397.71 75.47)" text-anchor="middle" dy=".9">GO4</text><path d="M420.00,105.00L396.96,61.76A49.0,49.0 0 0 1 403.13,59.00Z" fill="#3a1f9c"/><path d="M420.00,105.00L403.13,59.00A49.0,49.0 0 0 1 407.83,57.54Z" fill="#cb98ef"/><path d="M420.00,105.00L407.83,57.54A49.0,49.0 0 0 1 412.34,56.60Z" fill="#1f4e6e"/><path d="M420.00,105.00L412.34,56.60A49.0,49.0 0 0 1 416.01,56.16Z" fill="#9bc63d"/><path d="M420.00,105.00L416.01,56.16A49.0,49.0 0 0 1 419.08,56.01Z" fill="#9a3a0f"/><path d="M420.00,105.00L419.08,56.01A49.0,49.0 0 0 1 420.00,56.00Z" fill="#1fc7ae"/></g>
<g><path d="M420.00,49.00A56.0,56.0 0 0 1 450.50,58.03L446.36,64.41A48.4,48.4 0 0 0 420.00,56.60Z" fill="#dd5cef"/><path d="M450.50,58.03A56.0,56.0 0 0 1 471.92,84.02L464.88,86.87A48.4,48.4 0 0 0 446.36,64.41Z" fill="#de5fef"/><path d="M471.92,84.02A56.0,56.0 0 0 1 475.46,112.79L467.93,111.74A48.4,48.4 0 0 0 464.88,86.87Z" fill="#de63f0"/><path d="M475.46,112.79A56.0,56.0 0 0 1 468.00,133.84L461.49,129.93A48.4,48.4 0 0 0 467.93,111.74Z" fill="#df67f0"/><path d="M468.00,133.84A56.0,56.0 0 0 1 456.00,147.90L451.11,142.08A48.4,48.4 0 0 0 461.49,129.93Z" fill="#e06cf1"/><path d="M456.00,147.90A56.0,56.0 0 0 1 442.78,156.16L439.69,149.22A48.4,48.4 0 0 0 451.11,142.08Z" fill="#e171f1"/><path d="M442.78,156.16A56.0,56.0 0 0 1 428.76,160.31L427.57,152.80A48.4,48.4 0 0 0 439.69,149.22Z" fill="#e377f2"/><path d="M428.76,160.31A56.0,56.0 0 0 1 418.05,160.97L418.31,153.37A48.4,48.4 0 0 0 427.57,152.80Z" fill="#e47cf2"/><path d="M418.05,160.97A56.0,56.0 0 0 1 410.28,160.15L411.60,152.66A48.4,48.4 0 0 0 418.31,153.37Z" fill="#e582f3"/><path d="M410.28,160.15A56.0,56.0 0 0 1 403.63,158.55L405.85,151.29A48.4,48.4 0 0 0 411.60,152.66Z" fill="#e688f3"/><path d="M403.63,158.55A56.0,56.0 0 0 1 398.12,156.55L401.09,149.55A48.4,48.4 0 0 0 405.85,151.29Z" fill="#e88ff4"/><path d="M398.12,156.55A56.0,56.0 0 0 1 393.71,154.45L397.28,147.73A48.4,48.4 0 0 0 401.09,149.55Z" fill="#e995f5"/><path d="M393.71,154.45A56.0,56.0 0 0 1 390.32,152.49L394.35,146.05A48.4,48.4 0 0 0 397.28,147.73Z" fill="#ea9cf5"/><path d="M390.32,152.49A56.0,56.0 0 0 1 387.48,150.59L391.89,144.40A48.4,48.4 0 0 0 394.35,146.05Z" fill="#eca2f6"/><path d="M387.48,150.59A56.0,56.0 0 0 1 385.14,148.83L389.87,142.88A48.4,48.4 0 0 0 391.89,144.40Z" fill="#eda9f7"/><path d="M385.14,148.83A56.0,56.0 0 0 1 383.26,147.26L388.25,141.53A48.4,48.4 0 0 0 389.87,142.88Z" fill="#efb0f7"/><path d="M383.26,147.26A56.0,56.0 0 0 1 381.81,145.96L386.99,140.40A48.4,48.4 0 0 0 388.25,141.53Z" fill="#f0b7f8"/><path d="M381.81,145.96A56.0,56.0 0 0 1 380.54,144.74L385.90,139.34A48.4,48.4 0 0 0 386.99,140.40Z" fill="#f2bef9"/><path d="M380.54,144.74A56.0,56.0 0 0 1 379.51,143.69L385.01,138.44A48.4,48.4 0 0 0 385.90,139.34Z" fill="#f3c6f9"/><path d="M379.51,143.69A56.0,56.0 0 0 1 378.65,142.76L384.26,137.64A48.4,48.4 0 0 0 385.01,138.44Z" fill="#f5cdfa"/><path d="M378.65,142.76A56.0,56.0 0 0 1 377.99,142.03L383.69,137.01A48.4,48.4 0 0 0 384.26,137.64Z" fill="#f6d4fb"/><path d="M377.99,142.03A56.0,56.0 0 0 1 377.48,141.44L383.25,136.50A48.4,48.4 0 0 0 383.69,137.01Z" fill="#f8dcfc"/><path d="M377.48,141.44A56.0,56.0 0 0 1 376.98,140.85L382.82,135.98A48.4,48.4 0 0 0 383.25,136.50Z" fill="#f9e4fc"/><path d="M376.98,140.85A56.0,56.0 0 0 1 376.55,140.33L382.45,135.53A48.4,48.4 0 0 0 382.82,135.98Z" fill="#fbebfd"/><path d="M376.55,140.33A56.0,56.0 0 0 1 368.16,126.18L375.20,123.31A48.4,48.4 0 0 0 382.45,135.53Z" fill="#0b7a59"/><path d="M368.16,126.18A56.0,56.0 0 0 1 364.98,115.44L372.45,114.02A48.4,48.4 0 0 0 375.20,123.31Z" fill="#27896c"/><path d="M364.98,115.44A56.0,56.0 0 0 1 364.07,107.87L371.66,107.48A48.4,48.4 0 0 0 372.45,114.02Z" fill="#43987f"/><path d="M364.07,107.87A56.0,56.0 0 0 1 364.05,102.68L371.64,103.00A48.4,48.4 0 0 0 371.66,107.48Z" fill="#5fa892"/><path d="M364.05,102.68A56.0,56.0 0 0 1 364.30,99.17L371.86,99.96A48.4,48.4 0 0 0 371.64,103.00Z" fill="#7bb7a5"/><path d="M364.30,99.17A56.0,56.0 0 0 1 364.61,96.79L372.12,97.90A48.4,48.4 0 0 0 371.86,99.96Z" fill="#96c6b8"/><path d="M364.61,96.79A56.0,56.0 0 0 1 364.87,95.18L372.35,96.51A48.4,48.4 0 0 0 372.12,97.90Z" fill="#b2d5cb"/><path d="M364.87,95.18A56.0,56.0 0 0 1 365.07,94.09L372.53,95.57A48.4,48.4 0 0 0 372.35,96.51Z" fill="#cee4de"/><path d="M365.07,94.09A56.0,56.0 0 0 1 379.69,66.12L385.16,71.40A48.4,48.4 0 0 0 372.53,95.57Z" fill="#a1305b"/><path d="M379.69,66.12A56.0,56.0 0 0 1 393.66,55.58L397.24,62.29A48.4,48.4 0 0 0 385.16,71.40Z" fill="#e7a983"/><path d="M393.66,55.58A56.0,56.0 0 0 1 400.72,52.42L403.34,59.56A48.4,48.4 0 0 0 397.24,62.29Z" fill="#3a1f9c"/><path d="M400.72,52.42A56.0,56.0 0 0 1 404.06,51.32L406.22,58.60A48.4,48.4 0 0 0 403.34,59.56Z" fill="#e5ccf7"/><path d="M404.06,51.32A56.0,56.0 0 0 1 406.09,50.76L407.98,58.12A48.4,48.4 0 0 0 406.22,58.60Z" fill="#d3a7f1"/><path d="M406.09,50.76A56.0,56.0 0 0 1 411.25,49.69L412.44,57.19A48.4,48.4 0 0 0 407.98,58.12Z" fill="#1f4e6e"/><path d="M411.25,49.69A56.0,56.0 0 0 1 415.44,49.19L416.05,56.76A48.4,48.4 0 0 0 412.44,57.19Z" fill="#9bc63d"/><path d="M415.44,49.19A56.0,56.0 0 0 1 418.95,49.01L419.09,56.61A48.4,48.4 0 0 0 416.05,56.76Z" fill="#9a3a0f"/><path d="M418.95,49.01A56.0,56.0 0 0 1 420.00,49.00L420.00,56.60A48.4,48.4 0 0 0 419.09,56.61Z" fill="#1fc7ae"/></g>
<circle cx="420" cy="105" r="48.4" fill="none" stroke="#fff" stroke-opacity=".7" stroke-width=".45"/>
<g><line x1="446.36" y1="64.41" x2="450.50" y2="58.03" stroke="#fff" stroke-opacity=".55" stroke-width=".35"/><line x1="464.88" y1="86.87" x2="471.92" y2="84.02" stroke="#fff" stroke-opacity=".55" stroke-width=".35"/><line x1="467.93" y1="111.74" x2="475.46" y2="112.79" stroke="#fff" stroke-opacity=".55" stroke-width=".35"/><line x1="461.49" y1="129.93" x2="468.00" y2="133.84" stroke="#fff" stroke-opacity=".55" stroke-width=".35"/><line x1="451.11" y1="142.08" x2="456.00" y2="147.90" stroke="#fff" stroke-opacity=".55" stroke-width=".35"/><line x1="439.69" y1="149.22" x2="442.78" y2="156.16" stroke="#fff" stroke-opacity=".55" stroke-width=".35"/><line x1="427.57" y1="152.80" x2="428.76" y2="160.31" stroke="#fff" stroke-opacity=".55" stroke-width=".35"/><line x1="418.31" y1="153.37" x2="418.05" y2="160.97" stroke="#fff" stroke-opacity=".55" stroke-width=".35"/><line x1="411.60" y1="152.66" x2="410.28" y2="160.15" stroke="#fff" stroke-opacity=".55" stroke-width=".35"/><line x1="405.85" y1="151.29" x2="403.63" y2="158.55" stroke="#fff" stroke-opacity=".55" stroke-width=".35"/><line x1="401.09" y1="149.55" x2="398.12" y2="156.55" stroke="#fff" stroke-opacity=".55" stroke-width=".35"/><line x1="397.28" y1="147.73" x2="393.71" y2="154.45" stroke="#fff" stroke-opacity=".55" stroke-width=".35"/><line x1="394.35" y1="146.05" x2="390.32" y2="152.49" stroke="#fff" stroke-opacity=".55" stroke-width=".35"/><line x1="391.89" y1="144.40" x2="387.48" y2="150.59" stroke="#fff" stroke-opacity=".55" stroke-width=".35"/><line x1="389.87" y1="142.88" x2="385.14" y2="148.83" stroke="#fff" stroke-opacity=".55" stroke-width=".35"/><line x1="388.25" y1="141.53" x2="383.26" y2="147.26" stroke="#fff" stroke-opacity=".55" stroke-width=".35"/><line x1="386.99" y1="140.40" x2="381.81" y2="145.96" stroke="#fff" stroke-opacity=".55" stroke-width=".35"/><line x1="385.90" y1="139.34" x2="380.54" y2="144.74" stroke="#fff" stroke-opacity=".55" stroke-width=".35"/><line x1="385.01" y1="138.44" x2="379.51" y2="143.69" stroke="#fff" stroke-opacity=".55" stroke-width=".35"/><line x1="384.26" y1="137.64" x2="378.65" y2="142.76" stroke="#fff" stroke-opacity=".55" stroke-width=".35"/><line x1="383.69" y1="137.01" x2="377.99" y2="142.03" stroke="#fff" stroke-opacity=".55" stroke-width=".35"/><line x1="383.25" y1="136.50" x2="377.48" y2="141.44" stroke="#fff" stroke-opacity=".55" stroke-width=".35"/><line x1="382.82" y1="135.98" x2="376.98" y2="140.85" stroke="#fff" stroke-opacity=".55" stroke-width=".35"/><line x1="420" y1="105" x2="420.00" y2="49.00" stroke="#fff" stroke-opacity=".8" stroke-width=".4"/><line x1="375.20" y1="123.31" x2="368.16" y2="126.18" stroke="#fff" stroke-opacity=".55" stroke-width=".35"/><line x1="372.45" y1="114.02" x2="364.98" y2="115.44" stroke="#fff" stroke-opacity=".55" stroke-width=".35"/><line x1="371.66" y1="107.48" x2="364.07" y2="107.87" stroke="#fff" stroke-opacity=".55" stroke-width=".35"/><line x1="371.64" y1="103.00" x2="364.05" y2="102.68" stroke="#fff" stroke-opacity=".55" stroke-width=".35"/><line x1="371.86" y1="99.96" x2="364.30" y2="99.17" stroke="#fff" stroke-opacity=".55" stroke-width=".35"/><line x1="372.12" y1="97.90" x2="364.61" y2="96.79" stroke="#fff" stroke-opacity=".55" stroke-width=".35"/><line x1="372.35" y1="96.51" x2="364.87" y2="95.18" stroke="#fff" stroke-opacity=".55" stroke-width=".35"/><line x1="420" y1="105" x2="376.55" y2="140.33" stroke="#fff" stroke-opacity=".8" stroke-width=".4"/><line x1="420" y1="105" x2="365.07" y2="94.09" stroke="#fff" stroke-opacity=".8" stroke-width=".4"/><line x1="420" y1="105" x2="379.69" y2="66.12" stroke="#fff" stroke-opacity=".8" stroke-width=".4"/><line x1="420" y1="105" x2="393.66" y2="55.58" stroke="#fff" stroke-opacity=".8" stroke-width=".4"/><line x1="406.22" y1="58.60" x2="404.06" y2="51.32" stroke="#fff" stroke-opacity=".55" stroke-width=".35"/><line x1="420" y1="105" x2="400.72" y2="52.42" stroke="#fff" stroke-opacity=".8" stroke-width=".4"/><line x1="420" y1="105" x2="406.09" y2="50.76" stroke="#fff" stroke-opacity=".8" stroke-width=".4"/><line x1="420" y1="105" x2="411.25" y2="49.69" stroke="#fff" stroke-opacity=".8" stroke-width=".4"/><line x1="420" y1="105" x2="415.44" y2="49.19" stroke="#fff" stroke-opacity=".8" stroke-width=".4"/><line x1="420" y1="105" x2="418.95" y2="49.01" stroke="#fff" stroke-opacity=".8" stroke-width=".4"/></g>
<g class="rl"><text x="437.25" y="48.58" transform="rotate(-73.0 437.25 48.58)" text-anchor="start" textLength="5.3" lengthAdjust="spacingAndGlyphs" dy=".8">cell</text><text x="465.20" y="67.08" transform="rotate(-40.0 465.20 67.08)" text-anchor="start" textLength="7.0" lengthAdjust="spacingAndGlyphs" dy=".8">envelope</text><text x="478.43" y="96.79" transform="rotate(-8.0 478.43 96.79)" text-anchor="start" textLength="12.0" lengthAdjust="spacingAndGlyphs" dy=".8">biosynthesis</text><text x="475.19" y="125.86" transform="rotate(20.7 475.19 125.86)" text-anchor="start" textLength="15.0" lengthAdjust="spacingAndGlyphs" dy=".8">protein binding</text><text x="464.53" y="143.71" transform="rotate(41.0 464.53 143.71)" text-anchor="start" textLength="30.0" lengthAdjust="spacingAndGlyphs" dy=".8">structural molecule activity</text><text x="451.44" y="154.93" transform="rotate(57.8 451.44 154.93)" text-anchor="start" textLength="9.0" lengthAdjust="spacingAndGlyphs" dy=".8">cytoplasm</text><text x="436.26" y="161.71" transform="rotate(74.0 436.26 161.71)" text-anchor="start" textLength="7.0" lengthAdjust="spacingAndGlyphs" dy=".8">membrane</text><text x="424.12" y="163.86" transform="rotate(86.0 424.12 163.86)" text-anchor="start" textLength="10.0" lengthAdjust="spacingAndGlyphs" dy=".8">cell cycle</text><text x="414.86" y="163.78" transform="rotate(-85.0 414.86 163.78)" text-anchor="end" textLength="9.0" lengthAdjust="spacingAndGlyphs" dy=".8">organelle</text><text x="408.34" y="162.84" transform="rotate(-78.6 408.34 162.84)" text-anchor="end" textLength="19.0" lengthAdjust="spacingAndGlyphs" dy=".8">endomembrane system</text><text x="401.77" y="161.11" transform="rotate(-72.0 401.77 161.11)" text-anchor="end" textLength="8.0" lengthAdjust="spacingAndGlyphs" dy=".8">envelope</text><text x="395.53" y="158.69" transform="rotate(-65.5 395.53 158.69)" text-anchor="end" textLength="18.0" lengthAdjust="spacingAndGlyphs" dy=".8">metal ion binding</text><text x="389.97" y="155.78" transform="rotate(-59.4 389.97 155.78)" text-anchor="end" textLength="14.0" lengthAdjust="spacingAndGlyphs" dy=".8">cell division</text><text x="387.01" y="153.91" transform="rotate(-56.0 387.01 153.91)" text-anchor="end" textLength="9.0" lengthAdjust="spacingAndGlyphs" dy=".8">signaling</text><text x="383.68" y="151.49" transform="rotate(-52.0 383.68 151.49)" text-anchor="end" textLength="10.0" lengthAdjust="spacingAndGlyphs" dy=".8">DNA repair</text><text x="382.47" y="150.53" transform="rotate(-50.5 382.47 150.53)" text-anchor="end" textLength="13.0" lengthAdjust="spacingAndGlyphs" dy=".8">RNA splicing</text><text x="380.67" y="148.98" transform="rotate(-48.2 380.67 148.98)" text-anchor="end" textLength="22.0" lengthAdjust="spacingAndGlyphs" dy=".8">biological regulation</text><text x="379.02" y="147.44" transform="rotate(-46.0 379.02 147.44)" text-anchor="end" textLength="12.0" lengthAdjust="spacingAndGlyphs" dy=".8">biosynthesis</text><text x="377.56" y="145.98" transform="rotate(-44.0 377.56 145.98)" text-anchor="end" textLength="26.0" lengthAdjust="spacingAndGlyphs" dy=".8">nervous system development</text><text x="376.29" y="144.63" transform="rotate(-42.2 376.29 144.63)" text-anchor="end" textLength="16.0" lengthAdjust="spacingAndGlyphs" dy=".8">immune response</text><text x="375.14" y="143.32" transform="rotate(-40.5 375.14 143.32)" text-anchor="end" textLength="21.0" lengthAdjust="spacingAndGlyphs" dy=".8">cell differentiation</text><text x="370.74" y="137.48" transform="rotate(-33.4 370.74 137.48)" text-anchor="end" textLength="9.0" lengthAdjust="spacingAndGlyphs" dy=".8">organelle</text><text x="365.30" y="127.10" transform="rotate(-22.0 365.30 127.10)" text-anchor="end" textLength="24.0" lengthAdjust="spacingAndGlyphs" dy=".8">oxidoreductase activity</text><text x="361.66" y="113.82" transform="rotate(-8.6 361.66 113.82)" text-anchor="end" textLength="24.0" lengthAdjust="spacingAndGlyphs" dy=".8">transmembrane transport</text><text x="361.01" y="103.97" transform="rotate(0.0 361.01 103.97)" text-anchor="end" textLength="13.0" lengthAdjust="spacingAndGlyphs" dy=".8">nuclear part</text><text x="361.50" y="97.30" transform="rotate(3.0 361.50 97.30)" text-anchor="end" textLength="15.6" lengthAdjust="spacingAndGlyphs" dy=".8">immune response</text><text x="362.01" y="94.15" transform="rotate(2.0 362.01 94.15)" text-anchor="end" textLength="30.0" lengthAdjust="spacingAndGlyphs" dy=".8">structural molecule activity</text><text x="362.42" y="92.13" transform="rotate(2.0 362.42 92.13)" text-anchor="end" textLength="14.0" lengthAdjust="spacingAndGlyphs" dy=".8">ion transport</text><text x="367.91" y="77.30" transform="rotate(28.0 367.91 77.30)" text-anchor="end" textLength="3.0" lengthAdjust="spacingAndGlyphs" dy=".8">cell</text><text x="384.49" y="57.88" transform="rotate(53.0 384.49 57.88)" text-anchor="end" textLength="5.0" lengthAdjust="spacingAndGlyphs" dy=".8">membrane</text><text x="396.00" y="51.10" transform="rotate(66.0 396.00 51.10)" text-anchor="end" textLength="7.5" lengthAdjust="spacingAndGlyphs" dy=".8">membrane</text><text x="399.43" y="49.70" transform="rotate(69.6 399.43 49.70)" text-anchor="end" textLength="15.0" lengthAdjust="spacingAndGlyphs" dy=".8">enzyme binding</text><text x="400.79" y="49.21" transform="rotate(71.0 400.79 49.21)" text-anchor="end" textLength="18.0" lengthAdjust="spacingAndGlyphs" dy=".8">metal ion binding</text><text x="402.16" y="48.76" transform="rotate(72.4 402.16 48.76)" text-anchor="end" textLength="16.0" lengthAdjust="spacingAndGlyphs" dy=".8">protein binding</text><text x="403.54" y="48.34" transform="rotate(73.8 403.54 48.34)" text-anchor="end" textLength="14.0" lengthAdjust="spacingAndGlyphs" dy=".8">cell division</text><text x="404.93" y="47.96" transform="rotate(75.2 404.93 47.96)" text-anchor="end" textLength="12.0" lengthAdjust="spacingAndGlyphs" dy=".8">nuclear part</text><text x="408.14" y="47.21" transform="rotate(78.4 408.14 47.21)" text-anchor="end" textLength="20.0" lengthAdjust="spacingAndGlyphs" dy=".8">endomembrane system</text><text x="412.81" y="46.44" transform="rotate(83.0 412.81 46.44)" text-anchor="end" textLength="17.5" lengthAdjust="spacingAndGlyphs" dy=".8">catalytic complex</text><text x="416.19" y="46.12" transform="rotate(86.3 416.19 46.12)" text-anchor="end" textLength="19.0" lengthAdjust="spacingAndGlyphs" dy=".8">response to stress</text><text x="419.69" y="46.00" transform="rotate(89.7 419.69 46.00)" text-anchor="end" textLength="7.0" lengthAdjust="spacingAndGlyphs" dy=".8">envelope</text></g>
<g><path d="M272.00,277.00L272.00,228.00A49.0,49.0 0 1 1 258.33,324.05Z" fill="#ff7078"/><text class="il" x="308.14" y="282.14" transform="rotate(8.1 308.14 282.14)" text-anchor="middle" dy=".9">GO1</text><path d="M272.00,277.00L258.33,324.05A49.0,49.0 0 0 1 241.00,314.95Z" fill="#5c7a14"/><text class="il" x="254.79" y="309.75" transform="rotate(-62.3 254.79 309.75)" text-anchor="middle" dy=".9">GO2</text><path d="M272.00,277.00L241.00,314.95A49.0,49.0 0 0 1 228.77,300.06Z" fill="#6f1dfb"/><text class="il" x="243.42" y="300.50" transform="rotate(-39.4 243.42 300.50)" text-anchor="middle" dy=".9">GO3</text><path d="M272.00,277.00L228.77,300.06A49.0,49.0 0 0 1 223.35,282.84Z" fill="#55c61e"/><text class="il" x="236.70" y="288.10" transform="rotate(-17.5 236.70 288.10)" text-anchor="middle" dy=".9">GO4</text><path d="M272.00,277.00L223.35,282.84A49.0,49.0 0 0 1 224.46,265.11Z" fill="#f2128a"/><text class="il" x="235.07" y="274.68" transform="rotate(3.6 235.07 274.68)" text-anchor="middle" dy=".9">GO5</text><path d="M272.00,277.00L224.46,265.11A49.0,49.0 0 0 1 231.30,249.71Z" fill="#a4bfe9"/><text class="il" x="238.18" y="261.99" transform="rotate(23.9 238.18 261.99)" text-anchor="middle" dy=".9">GO6</text><path d="M272.00,277.00L231.30,249.71A49.0,49.0 0 0 1 238.23,241.49Z" fill="#dd5cef"/><text class="il" x="243.71" y="253.15" transform="rotate(40.1 243.71 253.15)" text-anchor="middle" dy=".9">GO7</text><path d="M272.00,277.00L238.23,241.49A49.0,49.0 0 0 1 244.20,236.65Z" fill="#0b7a59"/><path d="M272.00,277.00L244.20,236.65A49.0,49.0 0 0 1 250.58,232.93Z" fill="#a1305b"/><path d="M272.00,277.00L250.58,232.93A49.0,49.0 0 0 1 256.27,230.59Z" fill="#e7a983"/><path d="M272.00,277.00L256.27,230.59A49.0,49.0 0 0 1 261.01,229.25Z" fill="#3a1f9c"/><path d="M272.00,277.00L261.01,229.25A49.0,49.0 0 0 1 264.94,228.51Z" fill="#cb98ef"/><path d="M272.00,277.00L264.94,228.51A49.0,49.0 0 0 1 267.08,228.25Z" fill="#1f4e6e"/><path d="M272.00,277.00L267.08,228.25A49.0,49.0 0 0 1 268.92,228.10Z" fill="#9bc63d"/><path d="M272.00,277.00L268.92,228.10A49.0,49.0 0 0 1 270.46,228.02Z" fill="#9a3a0f"/><path d="M272.00,277.00L270.46,228.02A49.0,49.0 0 0 1 272.00,228.00Z" fill="#1fc7ae"/></g>
<g><path d="M272.00,221.00A56.0,56.0 0 0 1 313.62,239.53L307.97,244.61A48.4,48.4 0 0 0 272.00,228.60Z" fill="#ff7078"/><path d="M313.62,239.53A56.0,56.0 0 0 1 327.15,267.28L319.66,268.60A48.4,48.4 0 0 0 307.97,244.61Z" fill="#ff727a"/><path d="M327.15,267.28A56.0,56.0 0 0 1 325.26,294.30L318.03,291.96A48.4,48.4 0 0 0 319.66,268.60Z" fill="#ff757d"/><path d="M325.26,294.30A56.0,56.0 0 0 1 315.52,312.24L309.61,307.46A48.4,48.4 0 0 0 318.03,291.96Z" fill="#ff7981"/><path d="M315.52,312.24A56.0,56.0 0 0 1 304.92,322.30L300.45,316.16A48.4,48.4 0 0 0 309.61,307.46Z" fill="#ff7e86"/><path d="M304.92,322.30A56.0,56.0 0 0 1 296.02,327.59L292.76,320.72A48.4,48.4 0 0 0 300.45,316.16Z" fill="#ff848b"/><path d="M296.02,327.59A56.0,56.0 0 0 1 289.30,330.26L286.96,323.03A48.4,48.4 0 0 0 292.76,320.72Z" fill="#ff8a91"/><path d="M289.30,330.26A56.0,56.0 0 0 1 281.72,332.15L280.40,324.66A48.4,48.4 0 0 0 286.96,323.03Z" fill="#ff9197"/><path d="M281.72,332.15A56.0,56.0 0 0 1 274.93,332.92L274.53,325.33A48.4,48.4 0 0 0 280.40,324.66Z" fill="#ff989e"/><path d="M274.93,332.92A56.0,56.0 0 0 1 270.05,332.97L270.31,325.37A48.4,48.4 0 0 0 274.53,325.33Z" fill="#ffa0a6"/><path d="M270.05,332.97A56.0,56.0 0 0 1 266.15,332.69L266.94,325.13A48.4,48.4 0 0 0 270.31,325.37Z" fill="#ffa9ad"/><path d="M266.15,332.69A56.0,56.0 0 0 1 263.24,332.31L264.43,324.80A48.4,48.4 0 0 0 266.94,325.13Z" fill="#ffb1b6"/><path d="M263.24,332.31A56.0,56.0 0 0 1 261.12,331.93L262.60,324.48A48.4,48.4 0 0 0 264.43,324.80Z" fill="#ffbabe"/><path d="M261.12,331.93A56.0,56.0 0 0 1 259.59,331.61L261.28,324.20A48.4,48.4 0 0 0 262.60,324.48Z" fill="#ffc4c7"/><path d="M259.59,331.61A56.0,56.0 0 0 1 258.45,331.34L260.29,323.96A48.4,48.4 0 0 0 261.28,324.20Z" fill="#ffced0"/><path d="M258.45,331.34A56.0,56.0 0 0 1 257.51,331.09L259.47,323.75A48.4,48.4 0 0 0 260.29,323.96Z" fill="#ffd8da"/><path d="M257.51,331.09A56.0,56.0 0 0 1 256.38,330.78L258.50,323.48A48.4,48.4 0 0 0 259.47,323.75Z" fill="#ffe2e4"/><path d="M256.38,330.78A56.0,56.0 0 0 1 242.45,324.57L246.46,318.11A48.4,48.4 0 0 0 258.50,323.48Z" fill="#5c7a14"/><path d="M242.45,324.57A56.0,56.0 0 0 1 238.05,321.53L242.65,315.49A48.4,48.4 0 0 0 246.46,318.11Z" fill="#859b4f"/><path d="M238.05,321.53A56.0,56.0 0 0 1 236.58,320.37L241.38,314.49A48.4,48.4 0 0 0 242.65,315.49Z" fill="#aebc8a"/><path d="M236.58,320.37A56.0,56.0 0 0 1 232.87,317.06L238.18,311.63A48.4,48.4 0 0 0 241.38,314.49Z" fill="#6f1dfb"/><path d="M232.87,317.06A56.0,56.0 0 0 1 230.13,314.19L235.81,309.14A48.4,48.4 0 0 0 238.18,311.63Z" fill="#7c31fb"/><path d="M230.13,314.19A56.0,56.0 0 0 1 228.09,311.75L234.05,307.04A48.4,48.4 0 0 0 235.81,309.14Z" fill="#8945fc"/><path d="M228.09,311.75A56.0,56.0 0 0 1 226.56,309.73L232.72,305.28A48.4,48.4 0 0 0 234.05,307.04Z" fill="#9559fc"/><path d="M226.56,309.73A56.0,56.0 0 0 1 225.40,308.05L231.72,303.84A48.4,48.4 0 0 0 232.72,305.28Z" fill="#a26dfc"/><path d="M225.40,308.05A56.0,56.0 0 0 1 224.52,306.69L230.96,302.66A48.4,48.4 0 0 0 231.72,303.84Z" fill="#af81fd"/><path d="M224.52,306.69A56.0,56.0 0 0 1 223.84,305.57L230.37,301.70A48.4,48.4 0 0 0 230.96,302.66Z" fill="#bc96fd"/><path d="M223.84,305.57A56.0,56.0 0 0 1 223.32,304.67L229.92,300.92A48.4,48.4 0 0 0 230.37,301.70Z" fill="#c9aafd"/><path d="M223.32,304.67A56.0,56.0 0 0 1 222.91,303.95L229.57,300.29A48.4,48.4 0 0 0 229.92,300.92Z" fill="#d5befe"/><path d="M222.91,303.95A56.0,56.0 0 0 1 222.59,303.36L229.30,299.78A48.4,48.4 0 0 0 229.57,300.29Z" fill="#e2d2fe"/><path d="M222.59,303.36A56.0,56.0 0 0 1 219.52,296.54L226.64,293.89A48.4,48.4 0 0 0 229.30,299.78Z" fill="#55c61e"/><path d="M219.52,296.54A56.0,56.0 0 0 1 217.92,291.55L225.26,289.58A48.4,48.4 0 0 0 226.64,293.89Z" fill="#6ecf40"/><path d="M217.92,291.55A56.0,56.0 0 0 1 217.09,287.98L224.54,286.49A48.4,48.4 0 0 0 225.26,289.58Z" fill="#88d762"/><path d="M217.09,287.98A56.0,56.0 0 0 1 216.64,285.45L224.15,284.30A48.4,48.4 0 0 0 224.54,286.49Z" fill="#a2e083"/><path d="M216.64,285.45A56.0,56.0 0 0 1 216.40,283.67L223.94,282.76A48.4,48.4 0 0 0 224.15,284.30Z" fill="#bbe8a5"/><path d="M216.40,283.67A56.0,56.0 0 0 1 216.00,277.48L223.60,277.41A48.4,48.4 0 0 0 223.94,282.76Z" fill="#f2128a"/><path d="M216.00,277.48A56.0,56.0 0 0 1 216.16,272.83L223.73,273.39A48.4,48.4 0 0 0 223.60,277.41Z" fill="#f4369c"/><path d="M216.16,272.83A56.0,56.0 0 0 1 216.52,269.36L224.05,270.39A48.4,48.4 0 0 0 223.73,273.39Z" fill="#f659ad"/><path d="M216.52,269.36A56.0,56.0 0 0 1 216.94,266.77L224.41,268.16A48.4,48.4 0 0 0 224.05,270.39Z" fill="#f87dbf"/><path d="M216.94,266.77A56.0,56.0 0 0 1 217.33,264.85L224.75,266.50A48.4,48.4 0 0 0 224.41,268.16Z" fill="#faa0d0"/><path d="M217.33,264.85A56.0,56.0 0 0 1 217.67,263.41L225.05,265.26A48.4,48.4 0 0 0 224.75,266.50Z" fill="#fcc4e2"/><path d="M217.67,263.41A56.0,56.0 0 0 1 223.52,248.97L230.10,252.77A48.4,48.4 0 0 0 225.05,265.26Z" fill="#a4bfe9"/><path d="M223.52,248.97A56.0,56.0 0 0 1 225.49,245.81L231.80,250.05A48.4,48.4 0 0 0 230.10,252.77Z" fill="#abc4eb"/><path d="M225.49,245.81A56.0,56.0 0 0 1 229.63,240.38L235.38,245.35A48.4,48.4 0 0 0 231.80,250.05Z" fill="#dd5cef"/><path d="M229.63,240.38A56.0,56.0 0 0 1 231.61,238.21L237.09,243.48A48.4,48.4 0 0 0 235.38,245.35Z" fill="#e274f1"/><path d="M231.61,238.21A56.0,56.0 0 0 1 233.41,236.42L238.65,241.93A48.4,48.4 0 0 0 237.09,243.48Z" fill="#e78df4"/><path d="M233.41,236.42A56.0,56.0 0 0 1 240.23,230.88L244.54,237.14A48.4,48.4 0 0 0 238.65,241.93Z" fill="#0b7a59"/><path d="M240.23,230.88A56.0,56.0 0 0 1 247.52,226.63L250.84,233.47A48.4,48.4 0 0 0 244.54,237.14Z" fill="#a1305b"/><path d="M247.52,226.63A56.0,56.0 0 0 1 254.03,223.96L256.47,231.16A48.4,48.4 0 0 0 250.84,233.47Z" fill="#e7a983"/><path d="M254.03,223.96A56.0,56.0 0 0 1 259.44,222.43L261.15,229.83A48.4,48.4 0 0 0 256.47,231.16Z" fill="#3a1f9c"/><path d="M259.44,222.43A56.0,56.0 0 0 1 263.94,221.58L265.03,229.10A48.4,48.4 0 0 0 261.15,229.83Z" fill="#cb98ef"/><path d="M263.94,221.58A56.0,56.0 0 0 1 266.38,221.28L267.14,228.84A48.4,48.4 0 0 0 265.03,229.10Z" fill="#1f4e6e"/><path d="M266.38,221.28A56.0,56.0 0 0 1 268.48,221.11L268.96,228.70A48.4,48.4 0 0 0 267.14,228.84Z" fill="#9bc63d"/><path d="M268.48,221.11A56.0,56.0 0 0 1 270.24,221.03L270.48,228.62A48.4,48.4 0 0 0 268.96,228.70Z" fill="#9a3a0f"/><path d="M270.24,221.03A56.0,56.0 0 0 1 272.00,221.00L272.00,228.60A48.4,48.4 0 0 0 270.48,228.62Z" fill="#1fc7ae"/></g>
<circle cx="272" cy="277" r="48.4" fill="none" stroke="#fff" stroke-opacity=".7" stroke-width=".45"/>
<g><line x1="307.97" y1="244.61" x2="313.62" y2="239.53" stroke="#fff" stroke-opacity=".55" stroke-width=".35"/><line x1="319.66" y1="268.60" x2="327.15" y2="267.28" stroke="#fff" stroke-opacity=".55" stroke-width=".35"/><line x1="318.03" y1="291.96" x2="325.26" y2="294.30" stroke="#fff" stroke-opacity=".55" stroke-width=".35"/><line x1="309.61" y1="307.46" x2="315.52" y2="312.24" stroke="#fff" stroke-opacity=".55" stroke-width=".35"/><line x1="300.45" y1="316.16" x2="304.92" y2="322.30" stroke="#fff" stroke-opacity=".55" stroke-width=".35"/><line x1="292.76" y1="320.72" x2="296.02" y2="327.59" stroke="#fff" stroke-opacity=".55" stroke-width=".35"/><line x1="286.96" y1="323.03" x2="289.30" y2="330.26" stroke="#fff" stroke-opacity=".55" stroke-width=".35"/><line x1="280.40" y1="324.66" x2="281.72" y2="332.15" stroke="#fff" stroke-opacity=".55" stroke-width=".35"/><line x1="274.53" y1="325.33" x2="274.93" y2="332.92" stroke="#fff" stroke-opacity=".55" stroke-width=".35"/><line x1="270.31" y1="325.37" x2="270.05" y2="332.97" stroke="#fff" stroke-opacity=".55" stroke-width=".35"/><line x1="266.94" y1="325.13" x2="266.15" y2="332.69" stroke="#fff" stroke-opacity=".55" stroke-width=".35"/><line x1="264.43" y1="324.80" x2="263.24" y2="332.31" stroke="#fff" stroke-opacity=".55" stroke-width=".35"/><line x1="262.60" y1="324.48" x2="261.12" y2="331.93" stroke="#fff" stroke-opacity=".55" stroke-width=".35"/><line x1="261.28" y1="324.20" x2="259.59" y2="331.61" stroke="#fff" stroke-opacity=".55" stroke-width=".35"/><line x1="260.29" y1="323.96" x2="258.45" y2="331.34" stroke="#fff" stroke-opacity=".55" stroke-width=".35"/><line x1="259.47" y1="323.75" x2="257.51" y2="331.09" stroke="#fff" stroke-opacity=".55" stroke-width=".35"/><line x1="272" y1="277" x2="272.00" y2="221.00" stroke="#fff" stroke-opacity=".8" stroke-width=".4"/><line x1="246.46" y1="318.11" x2="242.45" y2="324.57" stroke="#fff" stroke-opacity=".55" stroke-width=".35"/><line x1="242.65" y1="315.49" x2="238.05" y2="321.53" stroke="#fff" stroke-opacity=".55" stroke-width=".35"/><line x1="272" y1="277" x2="256.38" y2="330.78" stroke="#fff" stroke-opacity=".8" stroke-width=".4"/><line x1="238.18" y1="311.63" x2="232.87" y2="317.06" stroke="#fff" stroke-opacity=".55" stroke-width=".35"/><line x1="235.81" y1="309.14" x2="230.13" y2="314.19" stroke="#fff" stroke-opacity=".55" stroke-width=".35"/><line x1="234.05" y1="307.04" x2="228.09" y2="311.75" stroke="#fff" stroke-opacity=".55" stroke-width=".35"/><line x1="232.72" y1="305.28" x2="226.56" y2="309.73" stroke="#fff" stroke-opacity=".55" stroke-width=".35"/><line x1="231.72" y1="303.84" x2="225.40" y2="308.05" stroke="#fff" stroke-opacity=".55" stroke-width=".35"/><line x1="230.96" y1="302.66" x2="224.52" y2="306.69" stroke="#fff" stroke-opacity=".55" stroke-width=".35"/><line x1="230.37" y1="301.70" x2="223.84" y2="305.57" stroke="#fff" stroke-opacity=".55" stroke-width=".35"/><line x1="229.92" y1="300.92" x2="223.32" y2="304.67" stroke="#fff" stroke-opacity=".55" stroke-width=".35"/><line x1="229.57" y1="300.29" x2="222.91" y2="303.95" stroke="#fff" stroke-opacity=".55" stroke-width=".35"/><line x1="272" y1="277" x2="236.58" y2="320.37" stroke="#fff" stroke-opacity=".8" stroke-width=".4"/><line x1="226.64" y1="293.89" x2="219.52" y2="296.54" stroke="#fff" stroke-opacity=".55" stroke-width=".35"/><line x1="225.26" y1="289.58" x2="217.92" y2="291.55" stroke="#fff" stroke-opacity=".55" stroke-width=".35"/><line x1="224.54" y1="286.49" x2="217.09" y2="287.98" stroke="#fff" stroke-opacity=".55" stroke-width=".35"/><line x1="224.15" y1="284.30" x2="216.64" y2="285.45" stroke="#fff" stroke-opacity=".55" stroke-width=".35"/><line x1="272" y1="277" x2="222.59" y2="303.36" stroke="#fff" stroke-opacity=".8" stroke-width=".4"/><line x1="223.60" y1="277.41" x2="216.00" y2="277.48" stroke="#fff" stroke-opacity=".55" stroke-width=".35"/><line x1="223.73" y1="273.39" x2="216.16" y2="272.83" stroke="#fff" stroke-opacity=".55" stroke-width=".35"/><line x1="224.05" y1="270.39" x2="216.52" y2="269.36" stroke="#fff" stroke-opacity=".55" stroke-width=".35"/><line x1="224.41" y1="268.16" x2="216.94" y2="266.77" stroke="#fff" stroke-opacity=".55" stroke-width=".35"/><line x1="224.75" y1="266.50" x2="217.33" y2="264.85" stroke="#fff" stroke-opacity=".55" stroke-width=".35"/><line x1="272" y1="277" x2="216.40" y2="283.67" stroke="#fff" stroke-opacity=".8" stroke-width=".4"/><line x1="230.10" y1="252.77" x2="223.52" y2="248.97" stroke="#fff" stroke-opacity=".55" stroke-width=".35"/><line x1="272" y1="277" x2="217.67" y2="263.41" stroke="#fff" stroke-opacity=".8" stroke-width=".4"/><line x1="235.38" y1="245.35" x2="229.63" y2="240.38" stroke="#fff" stroke-opacity=".55" stroke-width=".35"/><line x1="237.09" y1="243.48" x2="231.61" y2="238.21" stroke="#fff" stroke-opacity=".55" stroke-width=".35"/><line x1="272" y1="277" x2="225.49" y2="245.81" stroke="#fff" stroke-opacity=".8" stroke-width=".4"/><line x1="272" y1="277" x2="233.41" y2="236.42" stroke="#fff" stroke-opacity=".8" stroke-width=".4"/><line x1="272" y1="277" x2="240.23" y2="230.88" stroke="#fff" stroke-opacity=".8" stroke-width=".4"/><line x1="272" y1="277" x2="247.52" y2="226.63" stroke="#fff" stroke-opacity=".8" stroke-width=".4"/><line x1="272" y1="277" x2="254.03" y2="223.96" stroke="#fff" stroke-opacity=".8" stroke-width=".4"/><line x1="272" y1="277" x2="259.44" y2="222.43" stroke="#fff" stroke-opacity=".8" stroke-width=".4"/><line x1="272" y1="277" x2="263.94" y2="221.58" stroke="#fff" stroke-opacity=".8" stroke-width=".4"/><line x1="272" y1="277" x2="266.38" y2="221.28" stroke="#fff" stroke-opacity=".8" stroke-width=".4"/><line x1="272" y1="277" x2="268.48" y2="221.11" stroke="#fff" stroke-opacity=".8" stroke-width=".4"/><line x1="272" y1="277" x2="270.24" y2="221.03" stroke="#fff" stroke-opacity=".8" stroke-width=".4"/></g>
<g class="rl"><text x="295.53" y="222.89" transform="rotate(-66.5 295.53 222.89)" text-anchor="start" textLength="14.5" lengthAdjust="spacingAndGlyphs" dy=".8">cell division</text><text x="324.57" y="250.21" transform="rotate(-27.0 324.57 250.21)" text-anchor="start" textLength="25.0" lengthAdjust="spacingAndGlyphs" dy=".8">membrane-enclosed lumen</text><text x="330.86" y="281.12" transform="rotate(4.0 330.86 281.12)" text-anchor="start" textLength="23.0" lengthAdjust="spacingAndGlyphs" dy=".8">macromolecular complex</text><text x="323.35" y="306.05" transform="rotate(29.5 323.35 306.05)" text-anchor="start" textLength="9.0" lengthAdjust="spacingAndGlyphs" dy=".8">cytoplasm</text><text x="314.44" y="317.98" transform="rotate(44.0 314.44 317.98)" text-anchor="start" textLength="9.0" lengthAdjust="spacingAndGlyphs" dy=".8">organelle</text><text x="303.44" y="326.93" transform="rotate(57.8 303.44 326.93)" text-anchor="start" textLength="23.0" lengthAdjust="spacingAndGlyphs" dy=".8">chromatin organization</text><text x="294.10" y="331.70" transform="rotate(68.0 294.10 331.70)" text-anchor="start" textLength="20.0" lengthAdjust="spacingAndGlyphs" dy=".8">signal transduction</text><text x="285.77" y="334.37" transform="rotate(76.5 285.77 334.37)" text-anchor="start" textLength="28.0" lengthAdjust="spacingAndGlyphs" dy=".8">ion transmembrane transport</text><text x="277.14" y="335.78" transform="rotate(85.0 277.14 335.78)" text-anchor="start" textLength="27.0" lengthAdjust="spacingAndGlyphs" dy=".8">nervous system development</text><text x="267.88" y="335.86" transform="rotate(-86.0 267.88 335.86)" text-anchor="end" textLength="27.0" lengthAdjust="spacingAndGlyphs" dy=".8">vesicle-mediated transport</text><text x="263.79" y="335.43" transform="rotate(-82.0 263.79 335.43)" text-anchor="end" textLength="12.0" lengthAdjust="spacingAndGlyphs" dy=".8">biosynthesis</text><text x="261.75" y="335.10" transform="rotate(-80.0 261.75 335.10)" text-anchor="end" textLength="20.0" lengthAdjust="spacingAndGlyphs" dy=".8">signal transduction</text><text x="260.24" y="334.82" transform="rotate(-78.5 260.24 334.82)" text-anchor="end" textLength="14.0" lengthAdjust="spacingAndGlyphs" dy=".8">cell division</text><text x="258.73" y="334.49" transform="rotate(-77.0 258.73 334.49)" text-anchor="end" textLength="22.0" lengthAdjust="spacingAndGlyphs" dy=".8">macromolecular complex</text><text x="257.53" y="334.20" transform="rotate(-75.8 257.53 334.20)" text-anchor="end" textLength="16.0" lengthAdjust="spacingAndGlyphs" dy=".8">ATPase activity</text><text x="256.43" y="333.91" transform="rotate(-74.7 256.43 333.91)" text-anchor="end" textLength="20.0" lengthAdjust="spacingAndGlyphs" dy=".8">endomembrane system</text><text x="245.31" y="329.62" transform="rotate(-63.1 245.31 329.62)" text-anchor="end" textLength="17.0" lengthAdjust="spacingAndGlyphs" dy=".8">zinc ion binding</text><text x="235.03" y="322.98" transform="rotate(-51.2 235.03 322.98)" text-anchor="end" textLength="14.7" lengthAdjust="spacingAndGlyphs" dy=".8">immune response</text><text x="232.52" y="320.85" transform="rotate(-48.0 232.52 320.85)" text-anchor="end" textLength="10.0" lengthAdjust="spacingAndGlyphs" dy=".8">cell death</text><text x="230.28" y="318.72" transform="rotate(-45.0 230.28 318.72)" text-anchor="end" textLength="18.0" lengthAdjust="spacingAndGlyphs" dy=".8">metal ion binding</text><text x="228.50" y="316.86" transform="rotate(-42.5 228.50 316.86)" text-anchor="end" textLength="14.0" lengthAdjust="spacingAndGlyphs" dy=".8">cell adhesion</text><text x="226.94" y="315.08" transform="rotate(-40.2 226.94 315.08)" text-anchor="end" textLength="20.0" lengthAdjust="spacingAndGlyphs" dy=".8">plasma membrane part</text><text x="225.51" y="313.32" transform="rotate(-38.0 225.51 313.32)" text-anchor="end" textLength="15.0" lengthAdjust="spacingAndGlyphs" dy=".8">immune response</text><text x="224.27" y="311.68" transform="rotate(-36.0 224.27 311.68)" text-anchor="end" textLength="22.0" lengthAdjust="spacingAndGlyphs" dy=".8">protein ubiquitination</text><text x="223.09" y="309.99" transform="rotate(-34.0 223.09 309.99)" text-anchor="end" textLength="18.0" lengthAdjust="spacingAndGlyphs" dy=".8">metal ion binding</text><text x="221.48" y="307.48" transform="rotate(-31.1 221.48 307.48)" text-anchor="end" textLength="13.0" lengthAdjust="spacingAndGlyphs" dy=".8">RNA splicing</text><text x="220.60" y="305.96" transform="rotate(-29.4 220.60 305.96)" text-anchor="end" textLength="9.0" lengthAdjust="spacingAndGlyphs" dy=".8">organelle</text><text x="218.84" y="302.59" transform="rotate(-25.7 218.84 302.59)" text-anchor="end" textLength="11.0" lengthAdjust="spacingAndGlyphs" dy=".8">proteolysis</text><text x="216.18" y="296.11" transform="rotate(-18.9 216.18 296.11)" text-anchor="end" textLength="20.0" lengthAdjust="spacingAndGlyphs" dy=".8">signal transduction</text><text x="214.21" y="288.86" transform="rotate(-11.6 214.21 288.86)" text-anchor="end" textLength="14.6" lengthAdjust="spacingAndGlyphs" dy=".8">enzyme binding</text><text x="213.20" y="281.83" transform="rotate(0.0 213.20 281.83)" text-anchor="end" textLength="31.0" lengthAdjust="spacingAndGlyphs" dy=".8">regulation of cellular process</text><text x="213.08" y="274.02" transform="rotate(0.0 213.08 274.02)" text-anchor="end" textLength="45.0" lengthAdjust="spacingAndGlyphs" dy=".8">G-protein coupled receptor signaling pathway</text><text x="213.73" y="267.77" transform="rotate(0.0 213.73 267.77)" text-anchor="end" textLength="34.0" lengthAdjust="spacingAndGlyphs" dy=".8">intracellular signal transduction</text><text x="214.25" y="264.93" transform="rotate(0.0 214.25 264.93)" text-anchor="end" textLength="25.0" lengthAdjust="spacingAndGlyphs" dy=".8">oxidoreductase activity</text><text x="215.01" y="261.73" transform="rotate(0.0 215.01 261.73)" text-anchor="end" textLength="15.0" lengthAdjust="spacingAndGlyphs" dy=".8">enzyme binding</text><text x="215.76" y="259.16" transform="rotate(3.0 215.76 259.16)" text-anchor="end" textLength="40.0" lengthAdjust="spacingAndGlyphs" dy=".8">ion transmembrane transporter activity</text><text x="218.40" y="252.35" transform="rotate(24.7 218.40 252.35)" text-anchor="end" textLength="18.0" lengthAdjust="spacingAndGlyphs" dy=".8">protein transport</text><text x="224.27" y="242.32" transform="rotate(36.0 224.27 242.32)" text-anchor="end" textLength="12.0" lengthAdjust="spacingAndGlyphs" dy=".8">biosynthesis</text><text x="226.15" y="239.87" transform="rotate(39.0 226.15 239.87)" text-anchor="end" textLength="45.0" lengthAdjust="spacingAndGlyphs" dy=".8">G-protein coupled receptor signaling pathway</text><text x="230.28" y="235.28" transform="rotate(45.0 230.28 235.28)" text-anchor="end" textLength="60.0" lengthAdjust="spacingAndGlyphs" dy=".8">positive regulation of transcription by RNA polymerase II</text><text x="234.63" y="231.34" transform="rotate(50.7 234.63 231.34)" text-anchor="end" textLength="13.0" lengthAdjust="spacingAndGlyphs" dy=".8">RNA splicing</text><text x="237.32" y="229.27" transform="rotate(54.0 237.32 229.27)" text-anchor="end" textLength="10.0" lengthAdjust="spacingAndGlyphs" dy=".8">DNA repair</text><text x="242.14" y="226.11" transform="rotate(59.6 242.14 226.11)" text-anchor="end" textLength="12.0" lengthAdjust="spacingAndGlyphs" dy=".8">nuclear part</text><text x="246.69" y="223.70" transform="rotate(64.6 246.69 223.70)" text-anchor="end" textLength="29.0" lengthAdjust="spacingAndGlyphs" dy=".8">oxidation-reduction process</text><text x="248.57" y="222.85" transform="rotate(66.6 248.57 222.85)" text-anchor="end" textLength="27.0" lengthAdjust="spacingAndGlyphs" dy=".8">nervous system development</text><text x="254.65" y="220.61" transform="rotate(72.9 254.65 220.61)" text-anchor="end" textLength="18.5" lengthAdjust="spacingAndGlyphs" dy=".8">response to stress</text><text x="258.73" y="219.51" transform="rotate(77.0 258.73 219.51)" text-anchor="end" textLength="11.0" lengthAdjust="spacingAndGlyphs" dy=".8">DNA binding</text><text x="260.74" y="219.08" transform="rotate(87.0 260.74 219.08)" text-anchor="end" textLength="11.0" lengthAdjust="spacingAndGlyphs" dy=".8">translation</text><text x="262.47" y="218.78" transform="rotate(88.0 262.47 218.78)" text-anchor="end" textLength="14.0" lengthAdjust="spacingAndGlyphs" dy=".8">cell division</text><text x="263.48" y="218.62" transform="rotate(89.0 263.48 218.62)" text-anchor="end" textLength="18.0" lengthAdjust="spacingAndGlyphs" dy=".8">catalytic complex</text><text x="264.50" y="218.48" transform="rotate(89.0 264.50 218.48)" text-anchor="end" textLength="22.0" lengthAdjust="spacingAndGlyphs" dy=".8">protein ubiquitination</text><text x="265.73" y="218.33" transform="rotate(90.0 265.73 218.33)" text-anchor="end" textLength="26.0" lengthAdjust="spacingAndGlyphs" dy=".8">enzyme activator activity</text><text x="267.47" y="218.17" transform="rotate(90.0 267.47 218.17)" text-anchor="end" textLength="12.0" lengthAdjust="spacingAndGlyphs" dy=".8">nuclear part</text><text x="269.02" y="218.08" transform="rotate(90.0 269.02 218.08)" text-anchor="end" textLength="16.0" lengthAdjust="spacingAndGlyphs" dy=".8">ATPase activity</text><text x="270.25" y="218.03" transform="rotate(90.0 270.25 218.03)" text-anchor="end" textLength="20.0" lengthAdjust="spacingAndGlyphs" dy=".8">signal transduction</text><text x="271.59" y="218.00" transform="rotate(90.0 271.59 218.00)" text-anchor="end" textLength="9.0" lengthAdjust="spacingAndGlyphs" dy=".8">cytoplasm</text></g>
<path d="M241.2,104.2 C239.2,100.8 237.4,97.5 237.6,93.5 C237.3,90 237.7,87.3 238.7,84.7 C239.8,81 241.8,78.2 244.5,76 C247,74 250,72.5 253.3,71.6 C256.5,70.6 260,70.2 263.5,70.2 C267,70.2 270.5,71.2 273.6,72.4 C274.6,72.9 275.6,73.2 276.5,73.1 C279,72.2 282,71.5 285.3,71.6 C288.5,71.6 291.5,72 294,72.8 C295.8,73.3 297.3,73.8 298.2,74.5 C297.3,77 295.8,79.3 294,81.5 C292,84.2 289.3,86.8 286.5,88.9 C283.8,91 281,92.8 278,93.3 C276.5,93.2 275.3,92.4 274.4,91.1 C273,92.5 271.3,93.6 269.3,94.3 C266,95.2 262.5,95.3 259,95.5 C255.5,96.1 252,97.5 248.9,99.4 C246.8,100.7 245.3,102.5 244.3,104.3 C243.5,105.9 241.9,105.8 241.2,104.2Z" fill="#8a2b24"/>
<path d="M276.5,73.1 C275.2,78 274.6,84 274.4,91.3" fill="none" stroke="#6e1d1c" stroke-width=".5" stroke-opacity=".6"/>
<g stroke="#111" stroke-width="1.6">
<line x1="195" y1="80" x2="224.3" y2="80"/>
<line x1="307.4" y1="80" x2="335" y2="80"/>
<line x1="268" y1="117.5" x2="268" y2="167.8"/>
</g>
<g class="lg" font-size="6.1"><rect x="5" y="186.45" width="11" height="2.7" fill="#6f1dfb"/><text transform="translate(21.3 190.00) scale(0.806 1)">GO1 G-protein coupled receptor signaling pathway, 29.3 %</text><rect x="5" y="195.01" width="11" height="2.7" fill="#55c61e"/><text transform="translate(21.3 198.55) scale(0.806 1)">GO2 apoptotic process, 22.8 %</text><rect x="5" y="203.56" width="11" height="2.7" fill="#f2128a"/><text transform="translate(21.3 207.11) scale(0.806 1)">GO3 ion transmembrane transport, 14.3 %</text><rect x="5" y="212.12" width="11" height="2.7" fill="#a4bfe9"/><text transform="translate(21.3 215.66) scale(0.806 1)">GO4 carbohydrate derivative biosynthesis, 9.2 %</text><rect x="5" y="220.67" width="11" height="2.7" fill="#dd5cef"/><text transform="translate(21.3 224.22) scale(0.806 1)">GO5 organelle organization, 5.8 %</text><rect x="5" y="229.23" width="11" height="2.7" fill="#0b7a59"/><text transform="translate(21.3 232.77) scale(0.806 1)">GO6 cellular catabolism, 5.0 %</text><rect x="5" y="237.78" width="11" height="2.7" fill="#a1305b"/><text transform="translate(21.3 241.33) scale(0.806 1)">GO7 organic cyclic compound metabolism, 3.9 %</text><rect x="5" y="246.34" width="11" height="2.7" fill="#e7a983"/><text transform="translate(21.3 249.88) scale(0.806 1)">biosynthesis, 1.9 %</text><rect x="5" y="254.89" width="11" height="2.7" fill="#3a1f9c"/><text transform="translate(21.3 258.44) scale(0.806 1)">cellular process, 1.8 %</text><rect x="5" y="263.44" width="11" height="2.7" fill="#cb98ef"/><text transform="translate(21.3 266.99) scale(0.806 1)">biological regulation, 1.8 %</text><rect x="5" y="272.00" width="11" height="2.7" fill="#1f4e6e"/><text transform="translate(21.3 275.55) scale(0.806 1)">localization, 1.2 %</text><rect x="5" y="280.55" width="11" height="2.7" fill="#9bc63d"/><text transform="translate(21.3 284.10) scale(0.806 1)">cell communication, 1.1 %</text><rect x="5" y="289.11" width="11" height="2.7" fill="#9a3a0f"/><text transform="translate(21.3 292.66) scale(0.806 1)">cellular component organization or biogenesis, 1.0 %</text><rect x="5" y="297.66" width="11" height="2.7" fill="#1fc7ae"/><text transform="translate(21.3 301.21) scale(0.806 1)">signaling, 1.0 %</text></g>
<g class="lg" font-size="6.1"><rect x="444.5" y="170.65" width="11" height="2.7" fill="#dd5cef"/><text transform="translate(460.5 174.20) scale(0.83 1)">GO1 nuclear part,64.2%</text><rect x="444.5" y="179.23" width="11" height="2.7" fill="#0b7a59"/><text transform="translate(460.5 182.78) scale(0.83 1)">GO2 plasma membrane part,14.0%</text><rect x="444.5" y="187.81" width="11" height="2.7" fill="#a1305b"/><text transform="translate(460.5 191.36) scale(0.83 1)">GO3 cell,9.1%</text><rect x="444.5" y="196.39" width="11" height="2.7" fill="#e7a983"/><text transform="translate(460.5 199.94) scale(0.83 1)">GO4 organelle,5.0%</text><rect x="444.5" y="204.97" width="11" height="2.7" fill="#3a1f9c"/><text transform="translate(460.5 208.52) scale(0.83 1)">membrane,2.2%</text><rect x="444.5" y="213.55" width="11" height="2.7" fill="#cb98ef"/><text transform="translate(460.5 217.10) scale(0.83 1)">catalytic complex,1.6%</text><rect x="444.5" y="222.13" width="11" height="2.7" fill="#1f4e6e"/><text transform="translate(460.5 225.68) scale(0.83 1)">membrane-enclosed lumen,1.5%</text><rect x="444.5" y="230.71" width="11" height="2.7" fill="#9bc63d"/><text transform="translate(460.5 234.26) scale(0.83 1)">endomembrane system,1.2%</text><rect x="444.5" y="239.29" width="11" height="2.7" fill="#9a3a0f"/><text transform="translate(460.5 242.84) scale(0.83 1)">macromolecular complex,1.0%</text><rect x="444.5" y="247.87" width="11" height="2.7" fill="#1fc7ae"/><text transform="translate(460.5 251.42) scale(0.83 1)">envelope,0.3%</text></g>
<g class="lg" font-size="6.3"><rect x="356.4" y="270.15" width="10.2" height="2.7" fill="#ff7078"/><text transform="translate(372.6 273.77) scale(0.81 1)">GO1 sequence-specific DNA binding, 54.5 %</text><rect x="356.4" y="279.06" width="10.2" height="2.7" fill="#5c7a14"/><text transform="translate(372.6 282.68) scale(0.81 1)">GO2 signaling receptor activity, 6.4 %</text><rect x="356.4" y="287.98" width="10.2" height="2.7" fill="#6f1dfb"/><text transform="translate(372.6 291.60) scale(0.81 1)">GO3 enzyme binding, 6.3 %</text><rect x="356.4" y="296.89" width="10.2" height="2.7" fill="#55c61e"/><text transform="translate(372.6 300.51) scale(0.81 1)">GO4 zinc ion binding, 5.9 %</text><rect x="356.4" y="305.81" width="10.2" height="2.7" fill="#f2128a"/><text transform="translate(372.6 309.43) scale(0.81 1)">GO5 ion transmembrane transporter activity, 5.8 %</text><rect x="356.4" y="314.72" width="10.2" height="2.7" fill="#a4bfe9"/><text transform="translate(372.6 318.34) scale(0.81 1)">GO6 molecular transducer activity, 5.5 %</text><rect x="356.4" y="323.64" width="10.2" height="2.7" fill="#dd5cef"/><text transform="translate(372.6 327.26) scale(0.81 1)">GO7 transcription factor activity, sequence-specific DNA binding, 3.5 %</text><rect x="356.4" y="332.55" width="10.2" height="2.7" fill="#0b7a59"/><text transform="translate(372.6 336.17) scale(0.81 1)">oxidoreductase activity, 2.5 %</text><rect x="356.4" y="341.47" width="10.2" height="2.7" fill="#a1305b"/><text transform="translate(372.6 345.09) scale(0.81 1)">transporter activity, 2.4 %</text><rect x="356.4" y="350.38" width="10.2" height="2.7" fill="#e7a983"/><text transform="translate(372.6 354.00) scale(0.81 1)">ubiquitin-protein transferase activity, 2.0 %</text><rect x="356.4" y="359.30" width="10.2" height="2.7" fill="#3a1f9c"/><text transform="translate(372.6 362.92) scale(0.81 1)">structural molecule activity, 1.6 %</text><rect x="356.4" y="368.21" width="10.2" height="2.7" fill="#cb98ef"/><text transform="translate(372.6 371.83) scale(0.81 1)">ATPase activity, 1.3 %</text><rect x="356.4" y="377.13" width="10.2" height="2.7" fill="#1f4e6e"/><text transform="translate(372.6 380.75) scale(0.81 1)">chromatin binding, 0.7 %</text><rect x="356.4" y="386.04" width="10.2" height="2.7" fill="#9bc63d"/><text transform="translate(372.6 389.66) scale(0.81 1)">structural constituent of ribosome, 0.6 %</text><rect x="356.4" y="394.96" width="10.2" height="2.7" fill="#9a3a0f"/><text transform="translate(372.6 398.58) scale(0.81 1)">odorant binding, 0.5 %</text><rect x="356.4" y="403.88" width="10.2" height="2.7" fill="#1fc7ae"/><text transform="translate(372.6 407.49) scale(0.81 1)">enzyme activator activity, 0.5 %</text></g>
</svg>
</body></html>
